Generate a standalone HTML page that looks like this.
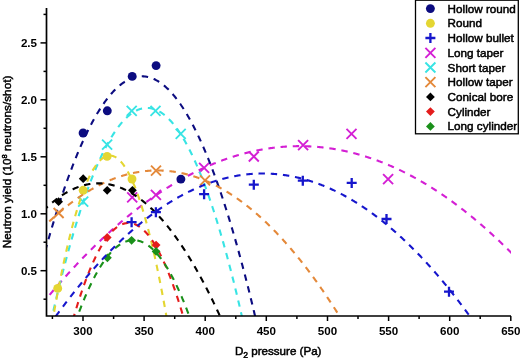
<!DOCTYPE html>
<html><head><meta charset="utf-8"><title>Neutron yield vs D2 pressure</title>
<style>
html,body{margin:0;padding:0;background:#fff;}
body{width:520px;height:358px;overflow:hidden;}
svg{display:block;}
text{font-family:"Liberation Sans", Arial, sans-serif;}
</style></head><body>
<svg width="520" height="358" viewBox="0 0 520 358">
<defs><clipPath id="pa"><rect x="46.5" y="0.0" width="464.5" height="316.0"/></clipPath></defs>

<path clip-path="url(#pa)" fill="none" stroke-width="2.1" stroke-dasharray="6.40 5.83" stroke-dashoffset="4.27" d="M44.50,301.04 L45.00,300.43 L45.50,299.83 L46.00,299.22 L46.50,298.62 L47.00,298.02 L47.50,297.42 L48.00,296.82 L48.50,296.22 L49.00,295.62 L49.50,295.02 L50.00,294.43 L50.50,293.84 L51.00,293.24 L51.50,292.65 L52.00,292.06 L52.50,291.47 L53.00,290.89 L53.50,290.30 L54.00,289.71 L54.50,289.13 L55.00,288.55 L55.50,287.97 L56.00,287.39 L56.50,286.81 L57.00,286.23 L57.50,285.65 L58.00,285.08 L58.50,284.50 L59.00,283.93 L59.50,283.36 L60.00,282.79 L60.50,282.22 L61.00,281.65 L61.50,281.08 L62.00,280.51 L62.50,279.95 L63.00,279.38 L63.50,278.82 L64.00,278.26 L64.50,277.70 L65.00,277.14 L65.50,276.58 L66.00,276.03 L66.50,275.47 L67.00,274.92 L67.50,274.36 L68.00,273.81 L68.50,273.26 L69.00,272.71 L69.50,272.16 L70.00,271.62 L70.50,271.07 L71.00,270.53 L71.50,269.98 L72.00,269.44 L72.50,268.90 L73.00,268.36 L73.50,267.82 L74.00,267.28 L74.50,266.75 L75.00,266.21 L75.50,265.68 L76.00,265.14 L76.50,264.61 L77.00,264.08 L77.50,263.55 L78.00,263.02 L78.50,262.50 L79.00,261.97 L79.50,261.45 L80.00,260.92 L80.50,260.40 L81.00,259.88 L81.50,259.36 L82.00,258.84 L82.50,258.32 L83.00,257.81 L83.50,257.29 L84.00,256.78 L84.50,256.27 L85.00,255.76 L85.50,255.25 L86.00,254.74 L86.50,254.23 L87.00,253.72 L87.50,253.22 L88.00,252.71 L88.50,252.21 L89.00,251.71 L89.50,251.21 L90.00,250.71 L90.50,250.21 L91.00,249.71 L91.50,249.22 L92.00,248.72 L92.50,248.23 L93.00,247.74 L93.50,247.24 L94.00,246.75 L94.50,246.27 L95.00,245.78 L95.50,245.29 L96.00,244.81 L96.50,244.32 L97.00,243.84 L97.50,243.36 L98.00,242.88 L98.50,242.40 L99.00,241.92 L99.50,241.44 L100.00,240.97 L100.50,240.49 L101.00,240.02 L101.50,239.55 L102.00,239.08 L102.50,238.61 L103.00,238.14 L103.50,237.67 L104.00,237.20 L104.50,236.74 L105.00,236.28 L105.50,235.81 L106.00,235.35 L106.50,234.89 L107.00,234.43 L107.50,233.97 L108.00,233.52 L108.50,233.06 L109.00,232.61 L109.50,232.15 L110.00,231.70 L110.50,231.25 L111.00,230.80 L111.50,230.35 L112.00,229.91 L112.50,229.46 L113.00,229.02 L113.50,228.57 L114.00,228.13 L114.50,227.69 L115.00,227.25 L115.50,226.81 L116.00,226.37 L116.50,225.94 L117.00,225.50 L117.50,225.07 L118.00,224.63 L118.50,224.20 L119.00,223.77 L119.50,223.34 L120.00,222.91 L120.50,222.49 L121.00,222.06 L121.50,221.64 L122.00,221.21 L122.50,220.79 L123.00,220.37 L123.50,219.95 L124.00,219.53 L124.50,219.12 L125.00,218.70 L125.50,218.28 L126.00,217.87 L126.50,217.46 L127.00,217.05 L127.50,216.64 L128.00,216.23 L128.50,215.82 L129.00,215.41 L129.50,215.01 L130.00,214.60 L130.50,214.20 L131.00,213.80 L131.50,213.40 L132.00,213.00 L132.50,212.60 L133.00,212.20 L133.50,211.81 L134.00,211.41 L134.50,211.02 L135.00,210.63 L135.50,210.23 L136.00,209.84 L136.50,209.46 L137.00,209.07 L137.50,208.68 L138.00,208.30 L138.50,207.91 L139.00,207.53 L139.50,207.15 L140.00,206.77 L140.50,206.39 L141.00,206.01 L141.50,205.63 L142.00,205.26 L142.50,204.88 L143.00,204.51 L143.50,204.14 L144.00,203.77 L144.50,203.40 L145.00,203.03 L145.50,202.66 L146.00,202.29 L146.50,201.93 L147.00,201.57 L147.50,201.20 L148.00,200.84 L148.50,200.48 L149.00,200.12 L149.50,199.76 L150.00,199.41 L150.50,199.05 L151.00,198.70 L151.50,198.34 L152.00,197.99 L152.50,197.64 L153.00,197.29 L153.50,196.94 L154.00,196.60 L154.50,196.25 L155.00,195.91 L155.50,195.56 L156.00,195.22 L156.50,194.88 L157.00,194.54 L157.50,194.20 L158.00,193.86 L158.50,193.53 L159.00,193.19 L159.50,192.86 L160.00,192.52 L160.50,192.19 L161.00,191.86 L161.50,191.53 L162.00,191.20 L162.50,190.88 L163.00,190.55 L163.50,190.23 L164.00,189.90 L164.50,189.58 L165.00,189.26 L165.50,188.94 L166.00,188.62 L166.50,188.31 L167.00,187.99 L167.50,187.67 L168.00,187.36 L168.50,187.05 L169.00,186.74 L169.50,186.43 L170.00,186.12 L170.50,185.81 L171.00,185.50 L171.50,185.20 L172.00,184.89 L172.50,184.59 L173.00,184.29 L173.50,183.99 L174.00,183.69 L174.50,183.39 L175.00,183.09 L175.50,182.80 L176.00,182.50 L176.50,182.21 L177.00,181.92 L177.50,181.62 L178.00,181.33 L178.50,181.05 L179.00,180.76 L179.50,180.47 L180.00,180.19 L180.50,179.90 L181.00,179.62 L181.50,179.34 L182.00,179.06 L182.50,178.78 L183.00,178.50 L183.50,178.22 L184.00,177.95 L184.50,177.67 L185.00,177.40 L185.50,177.13 L186.00,176.86 L186.50,176.59 L187.00,176.32 L187.50,176.05 L188.00,175.78 L188.50,175.52 L189.00,175.25 L189.50,174.99 L190.00,174.73 L190.50,174.47 L191.00,174.21 L191.50,173.95 L192.00,173.70 L192.50,173.44 L193.00,173.19 L193.50,172.93 L194.00,172.68 L194.50,172.43 L195.00,172.18 L195.50,171.93 L196.00,171.69 L196.50,171.44 L197.00,171.20 L197.50,170.95 L198.00,170.71 L198.50,170.47 L199.00,170.23 L199.50,169.99 L200.00,169.75 L200.50,169.52 L201.00,169.28 L201.50,169.05 L202.00,168.81 L202.50,168.58 L203.00,168.35 L203.50,168.12 L204.00,167.89 L204.50,167.67 L205.00,167.44 L205.50,167.22 L206.00,166.99 L206.50,166.77 L207.00,166.55 L207.50,166.33 L208.00,166.11 L208.50,165.89 L209.00,165.68 L209.50,165.46 L210.00,165.25 L210.50,165.04 L211.00,164.83 L211.50,164.62 L212.00,164.41 L212.50,164.20 L213.00,163.99 L213.50,163.79 L214.00,163.58 L214.50,163.38 L215.00,163.18 L215.50,162.98 L216.00,162.78 L216.50,162.58 L217.00,162.38 L217.50,162.18 L218.00,161.99 L218.50,161.80 L219.00,161.60 L219.50,161.41 L220.00,161.22 L220.50,161.03 L221.00,160.85 L221.50,160.66 L222.00,160.47 L222.50,160.29 L223.00,160.11 L223.50,159.93 L224.00,159.75 L224.50,159.57 L225.00,159.39 L225.50,159.21 L226.00,159.04 L226.50,158.86 L227.00,158.69 L227.50,158.52 L228.00,158.34 L228.50,158.17 L229.00,158.01 L229.50,157.84 L230.00,157.67 L230.50,157.51 L231.00,157.34 L231.50,157.18 L232.00,157.02 L232.50,156.86 L233.00,156.70 L233.50,156.54 L234.00,156.39 L234.50,156.23 L235.00,156.08 L235.50,155.92 L236.00,155.77 L236.50,155.62 L237.00,155.47 L237.50,155.32 L238.00,155.18 L238.50,155.03 L239.00,154.88 L239.50,154.74 L240.00,154.60 L240.50,154.46 L241.00,154.32 L241.50,154.18 L242.00,154.04 L242.50,153.90 L243.00,153.77 L243.50,153.64 L244.00,153.50 L244.50,153.37 L245.00,153.24 L245.50,153.11 L246.00,152.98 L246.50,152.86 L247.00,152.73 L247.50,152.61 L248.00,152.48 L248.50,152.36 L249.00,152.24 L249.50,152.12 L250.00,152.00 L250.50,151.88 L251.00,151.77 L251.50,151.65 L252.00,151.54 L252.50,151.43 L253.00,151.31 L253.50,151.20 L254.00,151.09 L254.50,150.99 L255.00,150.88 L255.50,150.77 L256.00,150.67 L256.50,150.57 L257.00,150.47 L257.50,150.36 L258.00,150.26 L258.50,150.17 L259.00,150.07 L259.50,149.97 L260.00,149.88 L260.50,149.79 L261.00,149.69 L261.50,149.60 L262.00,149.51 L262.50,149.42 L263.00,149.33 L263.50,149.25 L264.00,149.16 L264.50,149.08 L265.00,149.00 L265.50,148.91 L266.00,148.83 L266.50,148.75 L267.00,148.68 L267.50,148.60 L268.00,148.52 L268.50,148.45 L269.00,148.38 L269.50,148.30 L270.00,148.23 L270.50,148.16 L271.00,148.09 L271.50,148.03 L272.00,147.96 L272.50,147.90 L273.00,147.83 L273.50,147.77 L274.00,147.71 L274.50,147.65 L275.00,147.59 L275.50,147.53 L276.00,147.47 L276.50,147.42 L277.00,147.36 L277.50,147.31 L278.00,147.26 L278.50,147.21 L279.00,147.16 L279.50,147.11 L280.00,147.06 L280.50,147.02 L281.00,146.97 L281.50,146.93 L282.00,146.89 L282.50,146.85 L283.00,146.81 L283.50,146.77 L284.00,146.73 L284.50,146.69 L285.00,146.66 L285.50,146.62 L286.00,146.59 L286.50,146.56 L287.00,146.53 L287.50,146.50 L288.00,146.47 L288.50,146.44 L289.00,146.42 L289.50,146.39 L290.00,146.37 L290.50,146.35 L291.00,146.33 L291.50,146.31 L292.00,146.29 L292.50,146.27 L293.00,146.25 L293.50,146.24 L294.00,146.23 L294.50,146.21 L295.00,146.20 L295.50,146.19 L296.00,146.18 L296.50,146.17 L297.00,146.17 L297.50,146.16 L298.00,146.16 L298.50,146.15 L299.00,146.15 L299.50,146.15 L300.00,146.15 L300.50,146.15 L301.00,146.16 L301.50,146.16 L302.00,146.17 L302.50,146.17 L303.00,146.18 L303.50,146.19 L304.00,146.20 L304.50,146.21 L305.00,146.22 L305.50,146.24 L306.00,146.25 L306.50,146.27 L307.00,146.28 L307.50,146.30 L308.00,146.32 L308.50,146.34 L309.00,146.36 L309.50,146.39 L310.00,146.41 L310.50,146.44 L311.00,146.46 L311.50,146.49 L312.00,146.52 L312.50,146.55 L313.00,146.58 L313.50,146.61 L314.00,146.65 L314.50,146.68 L315.00,146.72 L315.50,146.76 L316.00,146.80 L316.50,146.84 L317.00,146.88 L317.50,146.92 L318.00,146.96 L318.50,147.01 L319.00,147.05 L319.50,147.10 L320.00,147.15 L320.50,147.20 L321.00,147.25 L321.50,147.30 L322.00,147.35 L322.50,147.40 L323.00,147.46 L323.50,147.52 L324.00,147.57 L324.50,147.63 L325.00,147.69 L325.50,147.75 L326.00,147.82 L326.50,147.88 L327.00,147.94 L327.50,148.01 L328.00,148.08 L328.50,148.15 L329.00,148.22 L329.50,148.29 L330.00,148.36 L330.50,148.43 L331.00,148.51 L331.50,148.58 L332.00,148.66 L332.50,148.74 L333.00,148.81 L333.50,148.89 L334.00,148.98 L334.50,149.06 L335.00,149.14 L335.50,149.23 L336.00,149.31 L336.50,149.40 L337.00,149.49 L337.50,149.58 L338.00,149.67 L338.50,149.76 L339.00,149.86 L339.50,149.95 L340.00,150.05 L340.50,150.14 L341.00,150.24 L341.50,150.34 L342.00,150.44 L342.50,150.54 L343.00,150.64 L343.50,150.75 L344.00,150.85 L344.50,150.96 L345.00,151.07 L345.50,151.18 L346.00,151.29 L346.50,151.40 L347.00,151.51 L347.50,151.62 L348.00,151.74 L348.50,151.85 L349.00,151.97 L349.50,152.09 L350.00,152.21 L350.50,152.33 L351.00,152.45 L351.50,152.57 L352.00,152.70 L352.50,152.82 L353.00,152.95 L353.50,153.08 L354.00,153.21 L354.50,153.34 L355.00,153.47 L355.50,153.60 L356.00,153.74 L356.50,153.87 L357.00,154.01 L357.50,154.14 L358.00,154.28 L358.50,154.42 L359.00,154.56 L359.50,154.71 L360.00,154.85 L360.50,154.99 L361.00,155.14 L361.50,155.29 L362.00,155.43 L362.50,155.58 L363.00,155.73 L363.50,155.88 L364.00,156.04 L364.50,156.19 L365.00,156.35 L365.50,156.50 L366.00,156.66 L366.50,156.82 L367.00,156.98 L367.50,157.14 L368.00,157.30 L368.50,157.47 L369.00,157.63 L369.50,157.80 L370.00,157.96 L370.50,158.13 L371.00,158.30 L371.50,158.47 L372.00,158.64 L372.50,158.82 L373.00,158.99 L373.50,159.17 L374.00,159.34 L374.50,159.52 L375.00,159.70 L375.50,159.88 L376.00,160.06 L376.50,160.24 L377.00,160.43 L377.50,160.61 L378.00,160.80 L378.50,160.99 L379.00,161.18 L379.50,161.37 L380.00,161.56 L380.50,161.75 L381.00,161.94 L381.50,162.14 L382.00,162.33 L382.50,162.53 L383.00,162.73 L383.50,162.93 L384.00,163.13 L384.50,163.33 L385.00,163.53 L385.50,163.73 L386.00,163.94 L386.50,164.15 L387.00,164.35 L387.50,164.56 L388.00,164.77 L388.50,164.98 L389.00,165.20 L389.50,165.41 L390.00,165.62 L390.50,165.84 L391.00,166.06 L391.50,166.28 L392.00,166.50 L392.50,166.72 L393.00,166.94 L393.50,167.16 L394.00,167.38 L394.50,167.61 L395.00,167.84 L395.50,168.06 L396.00,168.29 L396.50,168.52 L397.00,168.76 L397.50,168.99 L398.00,169.22 L398.50,169.46 L399.00,169.69 L399.50,169.93 L400.00,170.17 L400.50,170.41 L401.00,170.65 L401.50,170.89 L402.00,171.13 L402.50,171.38 L403.00,171.62 L403.50,171.87 L404.00,172.12 L404.50,172.37 L405.00,172.62 L405.50,172.87 L406.00,173.12 L406.50,173.38 L407.00,173.63 L407.50,173.89 L408.00,174.15 L408.50,174.41 L409.00,174.67 L409.50,174.93 L410.00,175.19 L410.50,175.45 L411.00,175.72 L411.50,175.98 L412.00,176.25 L412.50,176.52 L413.00,176.79 L413.50,177.06 L414.00,177.33 L414.50,177.60 L415.00,177.88 L415.50,178.15 L416.00,178.43 L416.50,178.71 L417.00,178.99 L417.50,179.27 L418.00,179.55 L418.50,179.83 L419.00,180.11 L419.50,180.40 L420.00,180.69 L420.50,180.97 L421.00,181.26 L421.50,181.55 L422.00,181.84 L422.50,182.13 L423.00,182.43 L423.50,182.72 L424.00,183.02 L424.50,183.31 L425.00,183.61 L425.50,183.91 L426.00,184.21 L426.50,184.51 L427.00,184.82 L427.50,185.12 L428.00,185.43 L428.50,185.73 L429.00,186.04 L429.50,186.35 L430.00,186.66 L430.50,186.97 L431.00,187.28 L431.50,187.60 L432.00,187.91 L432.50,188.23 L433.00,188.54 L433.50,188.86 L434.00,189.18 L434.50,189.50 L435.00,189.82 L435.50,190.15 L436.00,190.47 L436.50,190.80 L437.00,191.12 L437.50,191.45 L438.00,191.78 L438.50,192.11 L439.00,192.44 L439.50,192.77 L440.00,193.11 L440.50,193.44 L441.00,193.78 L441.50,194.12 L442.00,194.45 L442.50,194.79 L443.00,195.13 L443.50,195.48 L444.00,195.82 L444.50,196.16 L445.00,196.51 L445.50,196.86 L446.00,197.21 L446.50,197.55 L447.00,197.90 L447.50,198.26 L448.00,198.61 L448.50,198.96 L449.00,199.32 L449.50,199.67 L450.00,200.03 L450.50,200.39 L451.00,200.75 L451.50,201.11 L452.00,201.47 L452.50,201.84 L453.00,202.20 L453.50,202.57 L454.00,202.94 L454.50,203.30 L455.00,203.67 L455.50,204.04 L456.00,204.42 L456.50,204.79 L457.00,205.16 L457.50,205.54 L458.00,205.92 L458.50,206.29 L459.00,206.67 L459.50,207.05 L460.00,207.43 L460.50,207.82 L461.00,208.20 L461.50,208.58 L462.00,208.97 L462.50,209.36 L463.00,209.75 L463.50,210.14 L464.00,210.53 L464.50,210.92 L465.00,211.31 L465.50,211.71 L466.00,212.10 L466.50,212.50 L467.00,212.90 L467.50,213.30 L468.00,213.70 L468.50,214.10 L469.00,214.50 L469.50,214.91 L470.00,215.31 L470.50,215.72 L471.00,216.12 L471.50,216.53 L472.00,216.94 L472.50,217.35 L473.00,217.77 L473.50,218.18 L474.00,218.60 L474.50,219.01 L475.00,219.43 L475.50,219.85 L476.00,220.27 L476.50,220.69 L477.00,221.11 L477.50,221.53 L478.00,221.96 L478.50,222.38 L479.00,222.81 L479.50,223.24 L480.00,223.66 L480.50,224.09 L481.00,224.53 L481.50,224.96 L482.00,225.39 L482.50,225.83 L483.00,226.26 L483.50,226.70 L484.00,227.14 L484.50,227.58 L485.00,228.02 L485.50,228.46 L486.00,228.90 L486.50,229.35 L487.00,229.80 L487.50,230.24 L488.00,230.69 L488.50,231.14 L489.00,231.59 L489.50,232.04 L490.00,232.49 L490.50,232.95 L491.00,233.40 L491.50,233.86 L492.00,234.32 L492.50,234.78 L493.00,235.24 L493.50,235.70 L494.00,236.16 L494.50,236.62 L495.00,237.09 L495.50,237.55 L496.00,238.02 L496.50,238.49 L497.00,238.96 L497.50,239.43 L498.00,239.90 L498.50,240.37 L499.00,240.85 L499.50,241.32 L500.00,241.80 L500.50,242.28 L501.00,242.76 L501.50,243.24 L502.00,243.72 L502.50,244.20 L503.00,244.68 L503.50,245.17 L504.00,245.66 L504.50,246.14 L505.00,246.63 L505.50,247.12 L506.00,247.61 L506.50,248.10 L507.00,248.60 L507.50,249.09 L508.00,249.59 L508.50,250.08 L509.00,250.58 L509.50,251.08 L510.00,251.58 L510.50,252.08 L511.00,252.59 L511.50,253.09 L512.00,253.60 L512.50,254.10" stroke="#d41fd4"/>
<path d="M127.2,192.4L137.2,202.4M127.2,202.4L137.2,192.4" stroke="#d41fd4" stroke-width="1.90" fill="none"/>
<path d="M150.9,189.9L160.9,199.9M150.9,199.9L160.9,189.9" stroke="#d41fd4" stroke-width="1.90" fill="none"/>
<path d="M199.1,162.8L209.1,172.8M199.1,172.8L209.1,162.8" stroke="#d41fd4" stroke-width="1.90" fill="none"/>
<path d="M248.8,151.5L258.8,161.5M248.8,161.5L258.8,151.5" stroke="#d41fd4" stroke-width="1.90" fill="none"/>
<path d="M298.1,140.2L308.1,150.2M298.1,150.2L308.1,140.2" stroke="#d41fd4" stroke-width="1.90" fill="none"/>
<path d="M346.5,128.8L356.5,138.8M346.5,138.8L356.5,128.8" stroke="#d41fd4" stroke-width="1.90" fill="none"/>
<path d="M383.1,174.1L393.1,184.1M383.1,184.1L393.1,174.1" stroke="#d41fd4" stroke-width="1.90" fill="none"/>
<path clip-path="url(#pa)" fill="none" stroke-width="2.1" stroke-dasharray="6.40 5.83" stroke-dashoffset="7.56" d="M44.50,351.03 L45.00,348.66 L45.50,346.30 L46.00,343.96 L46.50,341.63 L47.00,339.31 L47.50,337.00 L48.00,334.70 L48.50,332.42 L49.00,330.15 L49.50,327.88 L50.00,325.63 L50.50,323.39 L51.00,321.17 L51.50,318.95 L52.00,316.75 L52.50,314.55 L53.00,312.37 L53.50,310.20 L54.00,308.05 L54.50,305.90 L55.00,303.76 L55.50,301.64 L56.00,299.53 L56.50,297.43 L57.00,295.34 L57.50,293.26 L58.00,291.20 L58.50,289.15 L59.00,287.10 L59.50,285.07 L60.00,283.05 L60.50,281.05 L61.00,279.05 L61.50,277.07 L62.00,275.09 L62.50,273.13 L63.00,271.18 L63.50,269.24 L64.00,267.32 L64.50,265.40 L65.00,263.50 L65.50,261.61 L66.00,259.73 L66.50,257.86 L67.00,256.00 L67.50,254.16 L68.00,252.32 L68.50,250.50 L69.00,248.69 L69.50,246.89 L70.00,245.10 L70.50,243.33 L71.00,241.56 L71.50,239.81 L72.00,238.07 L72.50,236.34 L73.00,234.62 L73.50,232.91 L74.00,231.22 L74.50,229.53 L75.00,227.86 L75.50,226.20 L76.00,224.55 L76.50,222.92 L77.00,221.29 L77.50,219.68 L78.00,218.07 L78.50,216.48 L79.00,214.90 L79.50,213.34 L80.00,211.78 L80.50,210.23 L81.00,208.70 L81.50,207.18 L82.00,205.67 L82.50,204.17 L83.00,202.69 L83.50,201.21 L84.00,199.75 L84.50,198.29 L85.00,196.85 L85.50,195.43 L86.00,194.01 L86.50,192.60 L87.00,191.21 L87.50,189.83 L88.00,188.45 L88.50,187.09 L89.00,185.75 L89.50,184.41 L90.00,183.09 L90.50,181.77 L91.00,180.47 L91.50,179.18 L92.00,177.90 L92.50,176.64 L93.00,175.38 L93.50,174.14 L94.00,172.90 L94.50,171.68 L95.00,170.47 L95.50,169.28 L96.00,168.09 L96.50,166.92 L97.00,165.75 L97.50,164.60 L98.00,163.46 L98.50,162.34 L99.00,161.22 L99.50,160.11 L100.00,159.02 L100.50,157.94 L101.00,156.87 L101.50,155.81 L102.00,154.76 L102.50,153.73 L103.00,152.70 L103.50,151.69 L104.00,150.69 L104.50,149.70 L105.00,148.72 L105.50,147.76 L106.00,146.80 L106.50,145.86 L107.00,144.93 L107.50,144.01 L108.00,143.10 L108.50,142.20 L109.00,141.32 L109.50,140.45 L110.00,139.58 L110.50,138.73 L111.00,137.90 L111.50,137.07 L112.00,136.25 L112.50,135.45 L113.00,134.66 L113.50,133.88 L114.00,133.11 L114.50,132.35 L115.00,131.60 L115.50,130.87 L116.00,130.14 L116.50,129.43 L117.00,128.73 L117.50,128.04 L118.00,127.37 L118.50,126.70 L119.00,126.05 L119.50,125.41 L120.00,124.78 L120.50,124.16 L121.00,123.55 L121.50,122.95 L122.00,122.37 L122.50,121.80 L123.00,121.24 L123.50,120.69 L124.00,120.15 L124.50,119.62 L125.00,119.11 L125.50,118.61 L126.00,118.11 L126.50,117.63 L127.00,117.17 L127.50,116.71 L128.00,116.26 L128.50,115.83 L129.00,115.41 L129.50,115.00 L130.00,114.60 L130.50,114.21 L131.00,113.83 L131.50,113.47 L132.00,113.12 L132.50,112.78 L133.00,112.45 L133.50,112.13 L134.00,111.82 L134.50,111.53 L135.00,111.24 L135.50,110.97 L136.00,110.71 L136.50,110.46 L137.00,110.23 L137.50,110.00 L138.00,109.79 L138.50,109.58 L139.00,109.39 L139.50,109.22 L140.00,109.05 L140.50,108.89 L141.00,108.75 L141.50,108.61 L142.00,108.49 L142.50,108.38 L143.00,108.28 L143.50,108.20 L144.00,108.12 L144.50,108.06 L145.00,108.01 L145.50,107.97 L146.00,107.94 L146.50,107.92 L147.00,107.92 L147.50,107.92 L148.00,107.94 L148.50,107.97 L149.00,108.01 L149.50,108.06 L150.00,108.13 L150.50,108.20 L151.00,108.29 L151.50,108.39 L152.00,108.50 L152.50,108.62 L153.00,108.75 L153.50,108.90 L154.00,109.05 L154.50,109.22 L155.00,109.40 L155.50,109.59 L156.00,109.79 L156.50,110.01 L157.00,110.23 L157.50,110.47 L158.00,110.72 L158.50,110.98 L159.00,111.25 L159.50,111.54 L160.00,111.83 L160.50,112.14 L161.00,112.46 L161.50,112.79 L162.00,113.13 L162.50,113.48 L163.00,113.85 L163.50,114.22 L164.00,114.61 L164.50,115.01 L165.00,115.42 L165.50,115.84 L166.00,116.28 L166.50,116.72 L167.00,117.18 L167.50,117.65 L168.00,118.13 L168.50,118.62 L169.00,119.13 L169.50,119.64 L170.00,120.17 L170.50,120.71 L171.00,121.26 L171.50,121.82 L172.00,122.39 L172.50,122.98 L173.00,123.57 L173.50,124.18 L174.00,124.80 L174.50,125.43 L175.00,126.07 L175.50,126.73 L176.00,127.39 L176.50,128.07 L177.00,128.76 L177.50,129.46 L178.00,130.17 L178.50,130.89 L179.00,131.63 L179.50,132.38 L180.00,133.13 L180.50,133.90 L181.00,134.68 L181.50,135.48 L182.00,136.28 L182.50,137.10 L183.00,137.93 L183.50,138.76 L184.00,139.62 L184.50,140.48 L185.00,141.35 L185.50,142.24 L186.00,143.13 L186.50,144.04 L187.00,144.96 L187.50,145.89 L188.00,146.84 L188.50,147.79 L189.00,148.76 L189.50,149.74 L190.00,150.73 L190.50,151.73 L191.00,152.74 L191.50,153.76 L192.00,154.80 L192.50,155.85 L193.00,156.91 L193.50,157.98 L194.00,159.06 L194.50,160.15 L195.00,161.26 L195.50,162.38 L196.00,163.50 L196.50,164.64 L197.00,165.80 L197.50,166.96 L198.00,168.13 L198.50,169.32 L199.00,170.52 L199.50,171.73 L200.00,172.95 L200.50,174.18 L201.00,175.43 L201.50,176.68 L202.00,177.95 L202.50,179.23 L203.00,180.52 L203.50,181.82 L204.00,183.13 L204.50,184.46 L205.00,185.80 L205.50,187.14 L206.00,188.50 L206.50,189.87 L207.00,191.26 L207.50,192.65 L208.00,194.06 L208.50,195.48 L209.00,196.91 L209.50,198.35 L210.00,199.80 L210.50,201.26 L211.00,202.74 L211.50,204.23 L212.00,205.72 L212.50,207.24 L213.00,208.76 L213.50,210.29 L214.00,211.84 L214.50,213.39 L215.00,214.96 L215.50,216.54 L216.00,218.13 L216.50,219.73 L217.00,221.35 L217.50,222.97 L218.00,224.61 L218.50,226.26 L219.00,227.92 L219.50,229.59 L220.00,231.28 L220.50,232.97 L221.00,234.68 L221.50,236.40 L222.00,238.13 L222.50,239.87 L223.00,241.62 L223.50,243.39 L224.00,245.17 L224.50,246.95 L225.00,248.75 L225.50,250.57 L226.00,252.39 L226.50,254.22 L227.00,256.07 L227.50,257.93 L228.00,259.79 L228.50,261.68 L229.00,263.57 L229.50,265.47 L230.00,267.39 L230.50,269.31 L231.00,271.25 L231.50,273.20 L232.00,275.16 L232.50,277.14 L233.00,279.12 L233.50,281.12 L234.00,283.13 L234.50,285.15 L235.00,287.18 L235.50,289.22 L236.00,291.27 L236.50,293.34 L237.00,295.42 L237.50,297.51 L238.00,299.61 L238.50,301.72 L239.00,303.84 L239.50,305.98 L240.00,308.12 L240.50,310.28 L241.00,312.45 L241.50,314.63 L242.00,316.83 L242.50,319.03 L243.00,321.25 L243.50,323.47 L244.00,325.71 L244.50,327.96 L245.00,330.23 L245.50,332.50 L246.00,334.79 L246.50,337.08 L247.00,339.39 L247.50,341.71 L248.00,344.05 L248.50,346.39 L249.00,348.74 L249.50,351.11 L250.00,353.49 L250.50,355.88" stroke="#38e4e4"/>
<path d="M78.2,196.7L88.2,206.7M78.2,206.7L88.2,196.7" stroke="#38e4e4" stroke-width="1.90" fill="none"/>
<path d="M102.1,139.6L112.1,149.6M102.1,149.6L112.1,139.6" stroke="#38e4e4" stroke-width="1.90" fill="none"/>
<path d="M126.7,105.9L136.7,115.9M126.7,115.9L136.7,105.9" stroke="#38e4e4" stroke-width="1.90" fill="none"/>
<path d="M150.5,105.9L160.5,115.9M150.5,115.9L160.5,105.9" stroke="#38e4e4" stroke-width="1.90" fill="none"/>
<path d="M175.7,128.9L185.7,138.9M175.7,138.9L185.7,128.9" stroke="#38e4e4" stroke-width="1.90" fill="none"/>
<path clip-path="url(#pa)" fill="none" stroke-width="2.1" stroke-dasharray="6.40 5.83" stroke-dashoffset="5.68" d="M47.00,354.39 L47.50,351.24 L48.00,348.11 L48.50,345.01 L49.00,341.94 L49.50,338.89 L50.00,335.87 L50.50,332.87 L51.00,329.90 L51.50,326.95 L52.00,324.03 L52.50,321.13 L53.00,318.26 L53.50,315.41 L54.00,312.59 L54.50,309.79 L55.00,307.02 L55.50,304.27 L56.00,301.55 L56.50,298.85 L57.00,296.18 L57.50,293.54 L58.00,290.92 L58.50,288.32 L59.00,285.75 L59.50,283.20 L60.00,280.68 L60.50,278.19 L61.00,275.72 L61.50,273.27 L62.00,270.85 L62.50,268.46 L63.00,266.09 L63.50,263.74 L64.00,261.42 L64.50,259.13 L65.00,256.86 L65.50,254.62 L66.00,252.40 L66.50,250.20 L67.00,248.04 L67.50,245.89 L68.00,243.77 L68.50,241.68 L69.00,239.61 L69.50,237.57 L70.00,235.55 L70.50,233.56 L71.00,231.59 L71.50,229.65 L72.00,227.73 L72.50,225.84 L73.00,223.97 L73.50,222.13 L74.00,220.31 L74.50,218.52 L75.00,216.76 L75.50,215.01 L76.00,213.30 L76.50,211.61 L77.00,209.94 L77.50,208.30 L78.00,206.68 L78.50,205.09 L79.00,203.53 L79.50,201.99 L80.00,200.47 L80.50,198.98 L81.00,197.52 L81.50,196.08 L82.00,194.66 L82.50,193.27 L83.00,191.91 L83.50,190.57 L84.00,189.26 L84.50,187.97 L85.00,186.70 L85.50,185.47 L86.00,184.25 L86.50,183.06 L87.00,181.90 L87.50,180.76 L88.00,179.65 L88.50,178.56 L89.00,177.50 L89.50,176.46 L90.00,175.45 L90.50,174.46 L91.00,173.50 L91.50,172.56 L92.00,171.65 L92.50,170.76 L93.00,169.90 L93.50,169.06 L94.00,168.25 L94.50,167.47 L95.00,166.71 L95.50,165.97 L96.00,165.26 L96.50,164.57 L97.00,163.91 L97.50,163.28 L98.00,162.67 L98.50,162.08 L99.00,161.52 L99.50,160.99 L100.00,160.48 L100.50,159.99 L101.00,159.53 L101.50,159.10 L102.00,158.69 L102.50,158.31 L103.00,157.95 L103.50,157.61 L104.00,157.30 L104.50,157.02 L105.00,156.76 L105.50,156.53 L106.00,156.32 L106.50,156.14 L107.00,155.98 L107.50,155.85 L108.00,155.74 L108.50,155.66 L109.00,155.60 L109.50,155.57 L110.00,155.56 L110.50,155.58 L111.00,155.62 L111.50,155.69 L112.00,155.78 L112.50,155.90 L113.00,156.05 L113.50,156.21 L114.00,156.41 L114.50,156.63 L115.00,156.87 L115.50,157.14 L116.00,157.44 L116.50,157.76 L117.00,158.10 L117.50,158.47 L118.00,158.87 L118.50,159.29 L119.00,159.73 L119.50,160.20 L120.00,160.70 L120.50,161.22 L121.00,161.76 L121.50,162.34 L122.00,162.93 L122.50,163.55 L123.00,164.20 L123.50,164.87 L124.00,165.57 L124.50,166.29 L125.00,167.04 L125.50,167.81 L126.00,168.61 L126.50,169.43 L127.00,170.28 L127.50,171.15 L128.00,172.05 L128.50,172.97 L129.00,173.92 L129.50,174.89 L130.00,175.89 L130.50,176.91 L131.00,177.96 L131.50,179.03 L132.00,180.13 L132.50,181.26 L133.00,182.41 L133.50,183.58 L134.00,184.78 L134.50,186.00 L135.00,187.25 L135.50,188.53 L136.00,189.83 L136.50,191.15 L137.00,192.50 L137.50,193.88 L138.00,195.28 L138.50,196.71 L139.00,198.16 L139.50,199.63 L140.00,201.13 L140.50,202.66 L141.00,204.21 L141.50,205.79 L142.00,207.39 L142.50,209.01 L143.00,210.67 L143.50,212.34 L144.00,214.05 L144.50,215.77 L145.00,217.53 L145.50,219.30 L146.00,221.11 L146.50,222.93 L147.00,224.79 L147.50,226.66 L148.00,228.57 L148.50,230.50 L149.00,232.45 L149.50,234.43 L150.00,236.43 L150.50,238.46 L151.00,240.51 L151.50,242.59 L152.00,244.70 L152.50,246.83 L153.00,248.98 L153.50,251.16 L154.00,253.37 L154.50,255.60 L155.00,257.85 L155.50,260.13 L156.00,262.44 L156.50,264.77 L157.00,267.12 L157.50,269.50 L158.00,271.91 L158.50,274.34 L159.00,276.80 L159.50,279.28 L160.00,281.78 L160.50,284.31 L161.00,286.87 L161.50,289.45 L162.00,292.06 L162.50,294.69 L163.00,297.35 L163.50,300.03 L164.00,302.74 L164.50,305.47 L165.00,308.23 L165.50,311.01 L166.00,313.82 L166.50,316.65 L167.00,319.51 L167.50,322.39 L168.00,325.30 L168.50,328.24 L169.00,331.20 L169.50,334.18 L170.00,337.19 L170.50,340.22 L171.00,343.28 L171.50,346.37 L172.00,349.48 L172.50,352.61 L173.00,355.77" stroke="#e4d632"/>
<circle cx="57.7" cy="288.4" r="4.45" fill="#e4d632"/>
<circle cx="83.2" cy="190.3" r="4.45" fill="#e4d632"/>
<circle cx="107.1" cy="156.4" r="4.45" fill="#e4d632"/>
<circle cx="132.0" cy="179.0" r="4.45" fill="#e4d632"/>
<path clip-path="url(#pa)" fill="none" stroke-width="2.1" stroke-dasharray="6.40 5.83" stroke-dashoffset="9.69" d="M44.50,253.48 L45.00,251.67 L45.50,249.86 L46.00,248.06 L46.50,246.28 L47.00,244.50 L47.50,242.73 L48.00,240.97 L48.50,239.22 L49.00,237.48 L49.50,235.75 L50.00,234.02 L50.50,232.31 L51.00,230.61 L51.50,228.91 L52.00,227.23 L52.50,225.55 L53.00,223.89 L53.50,222.23 L54.00,220.58 L54.50,218.95 L55.00,217.32 L55.50,215.70 L56.00,214.09 L56.50,212.49 L57.00,210.90 L57.50,209.32 L58.00,207.74 L58.50,206.18 L59.00,204.63 L59.50,203.08 L60.00,201.55 L60.50,200.02 L61.00,198.50 L61.50,197.00 L62.00,195.50 L62.50,194.01 L63.00,192.53 L63.50,191.06 L64.00,189.60 L64.50,188.15 L65.00,186.71 L65.50,185.28 L66.00,183.86 L66.50,182.44 L67.00,181.04 L67.50,179.64 L68.00,178.26 L68.50,176.88 L69.00,175.51 L69.50,174.16 L70.00,172.81 L70.50,171.47 L71.00,170.14 L71.50,168.82 L72.00,167.51 L72.50,166.21 L73.00,164.92 L73.50,163.63 L74.00,162.36 L74.50,161.10 L75.00,159.84 L75.50,158.60 L76.00,157.36 L76.50,156.14 L77.00,154.92 L77.50,153.71 L78.00,152.51 L78.50,151.32 L79.00,150.14 L79.50,148.97 L80.00,147.81 L80.50,146.66 L81.00,145.52 L81.50,144.38 L82.00,143.26 L82.50,142.15 L83.00,141.04 L83.50,139.95 L84.00,138.86 L84.50,137.78 L85.00,136.72 L85.50,135.66 L86.00,134.61 L86.50,133.57 L87.00,132.54 L87.50,131.52 L88.00,130.51 L88.50,129.50 L89.00,128.51 L89.50,127.53 L90.00,126.55 L90.50,125.59 L91.00,124.63 L91.50,123.69 L92.00,122.75 L92.50,121.82 L93.00,120.91 L93.50,120.00 L94.00,119.10 L94.50,118.21 L95.00,117.33 L95.50,116.46 L96.00,115.59 L96.50,114.74 L97.00,113.90 L97.50,113.07 L98.00,112.24 L98.50,111.43 L99.00,110.62 L99.50,109.82 L100.00,109.04 L100.50,108.26 L101.00,107.49 L101.50,106.73 L102.00,105.98 L102.50,105.24 L103.00,104.51 L103.50,103.79 L104.00,103.08 L104.50,102.37 L105.00,101.68 L105.50,101.00 L106.00,100.32 L106.50,99.66 L107.00,99.00 L107.50,98.35 L108.00,97.72 L108.50,97.09 L109.00,96.47 L109.50,95.86 L110.00,95.26 L110.50,94.67 L111.00,94.09 L111.50,93.52 L112.00,92.95 L112.50,92.40 L113.00,91.86 L113.50,91.32 L114.00,90.80 L114.50,90.28 L115.00,89.77 L115.50,89.28 L116.00,88.79 L116.50,88.31 L117.00,87.84 L117.50,87.38 L118.00,86.93 L118.50,86.49 L119.00,86.06 L119.50,85.64 L120.00,85.22 L120.50,84.82 L121.00,84.43 L121.50,84.04 L122.00,83.66 L122.50,83.30 L123.00,82.94 L123.50,82.59 L124.00,82.26 L124.50,81.93 L125.00,81.61 L125.50,81.30 L126.00,81.00 L126.50,80.70 L127.00,80.42 L127.50,80.15 L128.00,79.89 L128.50,79.63 L129.00,79.39 L129.50,79.15 L130.00,78.93 L130.50,78.71 L131.00,78.50 L131.50,78.30 L132.00,78.12 L132.50,77.94 L133.00,77.77 L133.50,77.61 L134.00,77.46 L134.50,77.31 L135.00,77.18 L135.50,77.06 L136.00,76.94 L136.50,76.84 L137.00,76.74 L137.50,76.66 L138.00,76.58 L138.50,76.52 L139.00,76.46 L139.50,76.41 L140.00,76.37 L140.50,76.34 L141.00,76.32 L141.50,76.31 L142.00,76.31 L142.50,76.32 L143.00,76.33 L143.50,76.36 L144.00,76.39 L144.50,76.44 L145.00,76.49 L145.50,76.56 L146.00,76.63 L146.50,76.71 L147.00,76.81 L147.50,76.91 L148.00,77.02 L148.50,77.14 L149.00,77.27 L149.50,77.41 L150.00,77.55 L150.50,77.71 L151.00,77.88 L151.50,78.05 L152.00,78.24 L152.50,78.43 L153.00,78.64 L153.50,78.85 L154.00,79.07 L154.50,79.31 L155.00,79.55 L155.50,79.80 L156.00,80.06 L156.50,80.33 L157.00,80.61 L157.50,80.90 L158.00,81.19 L158.50,81.50 L159.00,81.82 L159.50,82.14 L160.00,82.48 L160.50,82.82 L161.00,83.18 L161.50,83.54 L162.00,83.91 L162.50,84.29 L163.00,84.68 L163.50,85.08 L164.00,85.49 L164.50,85.91 L165.00,86.34 L165.50,86.78 L166.00,87.23 L166.50,87.68 L167.00,88.15 L167.50,88.63 L168.00,89.11 L168.50,89.60 L169.00,90.11 L169.50,90.62 L170.00,91.14 L170.50,91.67 L171.00,92.21 L171.50,92.76 L172.00,93.32 L172.50,93.89 L173.00,94.47 L173.50,95.06 L174.00,95.65 L174.50,96.26 L175.00,96.88 L175.50,97.50 L176.00,98.14 L176.50,98.78 L177.00,99.43 L177.50,100.09 L178.00,100.77 L178.50,101.45 L179.00,102.14 L179.50,102.84 L180.00,103.55 L180.50,104.26 L181.00,104.99 L181.50,105.73 L182.00,106.48 L182.50,107.23 L183.00,108.00 L183.50,108.77 L184.00,109.56 L184.50,110.35 L185.00,111.15 L185.50,111.96 L186.00,112.78 L186.50,113.61 L187.00,114.45 L187.50,115.30 L188.00,116.16 L188.50,117.03 L189.00,117.91 L189.50,118.79 L190.00,119.69 L190.50,120.60 L191.00,121.51 L191.50,122.44 L192.00,123.37 L192.50,124.31 L193.00,125.26 L193.50,126.22 L194.00,127.20 L194.50,128.18 L195.00,129.17 L195.50,130.16 L196.00,131.17 L196.50,132.19 L197.00,133.22 L197.50,134.25 L198.00,135.30 L198.50,136.35 L199.00,137.42 L199.50,138.49 L200.00,139.58 L200.50,140.67 L201.00,141.77 L201.50,142.88 L202.00,144.00 L202.50,145.13 L203.00,146.27 L203.50,147.42 L204.00,148.58 L204.50,149.74 L205.00,150.92 L205.50,152.11 L206.00,153.30 L206.50,154.51 L207.00,155.72 L207.50,156.94 L208.00,158.18 L208.50,159.42 L209.00,160.67 L209.50,161.93 L210.00,163.20 L210.50,164.48 L211.00,165.77 L211.50,167.07 L212.00,168.37 L212.50,169.69 L213.00,171.02 L213.50,172.35 L214.00,173.70 L214.50,175.05 L215.00,176.42 L215.50,177.79 L216.00,179.17 L216.50,180.56 L217.00,181.96 L217.50,183.37 L218.00,184.79 L218.50,186.22 L219.00,187.66 L219.50,189.11 L220.00,190.57 L220.50,192.03 L221.00,193.51 L221.50,194.99 L222.00,196.49 L222.50,197.99 L223.00,199.50 L223.50,201.03 L224.00,202.56 L224.50,204.10 L225.00,205.65 L225.50,207.21 L226.00,208.78 L226.50,210.36 L227.00,211.95 L227.50,213.54 L228.00,215.15 L228.50,216.77 L229.00,218.39 L229.50,220.03 L230.00,221.67 L230.50,223.32 L231.00,224.99 L231.50,226.66 L232.00,228.34 L232.50,230.03 L233.00,231.73 L233.50,233.44 L234.00,235.16 L234.50,236.89 L235.00,238.63 L235.50,240.37 L236.00,242.13 L236.50,243.89 L237.00,245.67 L237.50,247.45 L238.00,249.25 L238.50,251.05 L239.00,252.86 L239.50,254.69 L240.00,256.52 L240.50,258.36 L241.00,260.21 L241.50,262.07 L242.00,263.93 L242.50,265.81 L243.00,267.70 L243.50,269.60 L244.00,271.50 L244.50,273.42 L245.00,275.34 L245.50,277.28 L246.00,279.22 L246.50,281.17 L247.00,283.13 L247.50,285.10 L248.00,287.09 L248.50,289.08 L249.00,291.08 L249.50,293.08 L250.00,295.10 L250.50,297.13 L251.00,299.17 L251.50,301.21 L252.00,303.27 L252.50,305.33 L253.00,307.41 L253.50,309.49 L254.00,311.58 L254.50,313.69 L255.00,315.80 L255.50,317.92 L256.00,320.05 L256.50,322.19 L257.00,324.34 L257.50,326.50 L258.00,328.66 L258.50,330.84 L259.00,333.03 L259.50,335.22 L260.00,337.43 L260.50,339.64 L261.00,341.87 L261.50,344.10 L262.00,346.34 L262.50,348.59 L263.00,350.85 L263.50,353.13 L264.00,355.41" stroke="#0c0c80"/>
<circle cx="83.1" cy="133.0" r="4.45" fill="#0c0c80"/>
<circle cx="107.3" cy="110.8" r="4.45" fill="#0c0c80"/>
<circle cx="132.2" cy="76.4" r="4.45" fill="#0c0c80"/>
<circle cx="156.1" cy="65.6" r="4.45" fill="#0c0c80"/>
<circle cx="180.9" cy="179.1" r="4.45" fill="#0c0c80"/>
<path clip-path="url(#pa)" fill="none" stroke-width="2.1" stroke-dasharray="6.40 5.83" stroke-dashoffset="5.49" d="M44.50,226.10 L45.00,225.60 L45.50,225.11 L46.00,224.63 L46.50,224.14 L47.00,223.66 L47.50,223.17 L48.00,222.70 L48.50,222.22 L49.00,221.74 L49.50,221.27 L50.00,220.80 L50.50,220.33 L51.00,219.87 L51.50,219.40 L52.00,218.94 L52.50,218.48 L53.00,218.02 L53.50,217.57 L54.00,217.11 L54.50,216.66 L55.00,216.21 L55.50,215.77 L56.00,215.32 L56.50,214.88 L57.00,214.44 L57.50,214.00 L58.00,213.57 L58.50,213.13 L59.00,212.70 L59.50,212.27 L60.00,211.85 L60.50,211.42 L61.00,211.00 L61.50,210.58 L62.00,210.16 L62.50,209.75 L63.00,209.33 L63.50,208.92 L64.00,208.51 L64.50,208.10 L65.00,207.70 L65.50,207.30 L66.00,206.90 L66.50,206.50 L67.00,206.10 L67.50,205.71 L68.00,205.32 L68.50,204.93 L69.00,204.54 L69.50,204.15 L70.00,203.77 L70.50,203.39 L71.00,203.01 L71.50,202.64 L72.00,202.26 L72.50,201.89 L73.00,201.52 L73.50,201.15 L74.00,200.79 L74.50,200.42 L75.00,200.06 L75.50,199.70 L76.00,199.35 L76.50,198.99 L77.00,198.64 L77.50,198.29 L78.00,197.94 L78.50,197.60 L79.00,197.25 L79.50,196.91 L80.00,196.57 L80.50,196.23 L81.00,195.90 L81.50,195.57 L82.00,195.24 L82.50,194.91 L83.00,194.58 L83.50,194.26 L84.00,193.94 L84.50,193.62 L85.00,193.30 L85.50,192.98 L86.00,192.67 L86.50,192.36 L87.00,192.05 L87.50,191.75 L88.00,191.44 L88.50,191.14 L89.00,190.84 L89.50,190.54 L90.00,190.25 L90.50,189.95 L91.00,189.66 L91.50,189.37 L92.00,189.09 L92.50,188.80 L93.00,188.52 L93.50,188.24 L94.00,187.96 L94.50,187.69 L95.00,187.41 L95.50,187.14 L96.00,186.87 L96.50,186.61 L97.00,186.34 L97.50,186.08 L98.00,185.82 L98.50,185.56 L99.00,185.30 L99.50,185.05 L100.00,184.80 L100.50,184.55 L101.00,184.30 L101.50,184.06 L102.00,183.81 L102.50,183.57 L103.00,183.34 L103.50,183.10 L104.00,182.87 L104.50,182.63 L105.00,182.40 L105.50,182.18 L106.00,181.95 L106.50,181.73 L107.00,181.51 L107.50,181.29 L108.00,181.07 L108.50,180.86 L109.00,180.65 L109.50,180.44 L110.00,180.23 L110.50,180.02 L111.00,179.82 L111.50,179.62 L112.00,179.42 L112.50,179.22 L113.00,179.03 L113.50,178.83 L114.00,178.64 L114.50,178.46 L115.00,178.27 L115.50,178.09 L116.00,177.91 L116.50,177.73 L117.00,177.55 L117.50,177.37 L118.00,177.20 L118.50,177.03 L119.00,176.86 L119.50,176.70 L120.00,176.53 L120.50,176.37 L121.00,176.21 L121.50,176.05 L122.00,175.90 L122.50,175.75 L123.00,175.59 L123.50,175.45 L124.00,175.30 L124.50,175.16 L125.00,175.01 L125.50,174.87 L126.00,174.74 L126.50,174.60 L127.00,174.47 L127.50,174.34 L128.00,174.21 L128.50,174.08 L129.00,173.96 L129.50,173.83 L130.00,173.71 L130.50,173.59 L131.00,173.48 L131.50,173.37 L132.00,173.25 L132.50,173.14 L133.00,173.04 L133.50,172.93 L134.00,172.83 L134.50,172.73 L135.00,172.63 L135.50,172.54 L136.00,172.44 L136.50,172.35 L137.00,172.26 L137.50,172.17 L138.00,172.09 L138.50,172.01 L139.00,171.92 L139.50,171.85 L140.00,171.77 L140.50,171.70 L141.00,171.62 L141.50,171.55 L142.00,171.49 L142.50,171.42 L143.00,171.36 L143.50,171.30 L144.00,171.24 L144.50,171.18 L145.00,171.13 L145.50,171.07 L146.00,171.02 L146.50,170.98 L147.00,170.93 L147.50,170.89 L148.00,170.85 L148.50,170.81 L149.00,170.77 L149.50,170.74 L150.00,170.70 L150.50,170.67 L151.00,170.64 L151.50,170.62 L152.00,170.59 L152.50,170.57 L153.00,170.55 L153.50,170.54 L154.00,170.52 L154.50,170.51 L155.00,170.50 L155.50,170.49 L156.00,170.48 L156.50,170.48 L157.00,170.48 L157.50,170.48 L158.00,170.48 L158.50,170.48 L159.00,170.49 L159.50,170.50 L160.00,170.51 L160.50,170.53 L161.00,170.54 L161.50,170.56 L162.00,170.58 L162.50,170.60 L163.00,170.63 L163.50,170.65 L164.00,170.68 L164.50,170.71 L165.00,170.75 L165.50,170.78 L166.00,170.82 L166.50,170.86 L167.00,170.90 L167.50,170.94 L168.00,170.99 L168.50,171.04 L169.00,171.09 L169.50,171.14 L170.00,171.20 L170.50,171.25 L171.00,171.31 L171.50,171.38 L172.00,171.44 L172.50,171.51 L173.00,171.57 L173.50,171.64 L174.00,171.72 L174.50,171.79 L175.00,171.87 L175.50,171.95 L176.00,172.03 L176.50,172.11 L177.00,172.20 L177.50,172.29 L178.00,172.38 L178.50,172.47 L179.00,172.56 L179.50,172.66 L180.00,172.76 L180.50,172.86 L181.00,172.96 L181.50,173.07 L182.00,173.18 L182.50,173.29 L183.00,173.40 L183.50,173.51 L184.00,173.63 L184.50,173.75 L185.00,173.87 L185.50,173.99 L186.00,174.12 L186.50,174.24 L187.00,174.37 L187.50,174.51 L188.00,174.64 L188.50,174.78 L189.00,174.91 L189.50,175.05 L190.00,175.20 L190.50,175.34 L191.00,175.49 L191.50,175.64 L192.00,175.79 L192.50,175.94 L193.00,176.10 L193.50,176.26 L194.00,176.42 L194.50,176.58 L195.00,176.74 L195.50,176.91 L196.00,177.08 L196.50,177.25 L197.00,177.42 L197.50,177.60 L198.00,177.78 L198.50,177.96 L199.00,178.14 L199.50,178.32 L200.00,178.51 L200.50,178.70 L201.00,178.89 L201.50,179.08 L202.00,179.28 L202.50,179.48 L203.00,179.68 L203.50,179.88 L204.00,180.08 L204.50,180.29 L205.00,180.50 L205.50,180.71 L206.00,180.92 L206.50,181.14 L207.00,181.35 L207.50,181.57 L208.00,181.79 L208.50,182.02 L209.00,182.24 L209.50,182.47 L210.00,182.70 L210.50,182.93 L211.00,183.17 L211.50,183.41 L212.00,183.64 L212.50,183.89 L213.00,184.13 L213.50,184.37 L214.00,184.62 L214.50,184.87 L215.00,185.12 L215.50,185.38 L216.00,185.64 L216.50,185.89 L217.00,186.16 L217.50,186.42 L218.00,186.68 L218.50,186.95 L219.00,187.22 L219.50,187.49 L220.00,187.77 L220.50,188.04 L221.00,188.32 L221.50,188.60 L222.00,188.89 L222.50,189.17 L223.00,189.46 L223.50,189.75 L224.00,190.04 L224.50,190.33 L225.00,190.63 L225.50,190.93 L226.00,191.23 L226.50,191.53 L227.00,191.84 L227.50,192.14 L228.00,192.45 L228.50,192.76 L229.00,193.08 L229.50,193.39 L230.00,193.71 L230.50,194.03 L231.00,194.35 L231.50,194.68 L232.00,195.00 L232.50,195.33 L233.00,195.66 L233.50,196.00 L234.00,196.33 L234.50,196.67 L235.00,197.01 L235.50,197.35 L236.00,197.70 L236.50,198.04 L237.00,198.39 L237.50,198.74 L238.00,199.10 L238.50,199.45 L239.00,199.81 L239.50,200.17 L240.00,200.53 L240.50,200.89 L241.00,201.26 L241.50,201.63 L242.00,202.00 L242.50,202.37 L243.00,202.75 L243.50,203.12 L244.00,203.50 L244.50,203.88 L245.00,204.27 L245.50,204.65 L246.00,205.04 L246.50,205.43 L247.00,205.82 L247.50,206.22 L248.00,206.61 L248.50,207.01 L249.00,207.41 L249.50,207.82 L250.00,208.22 L250.50,208.63 L251.00,209.04 L251.50,209.45 L252.00,209.87 L252.50,210.28 L253.00,210.70 L253.50,211.12 L254.00,211.55 L254.50,211.97 L255.00,212.40 L255.50,212.83 L256.00,213.26 L256.50,213.70 L257.00,214.13 L257.50,214.57 L258.00,215.01 L258.50,215.45 L259.00,215.90 L259.50,216.35 L260.00,216.79 L260.50,217.25 L261.00,217.70 L261.50,218.16 L262.00,218.61 L262.50,219.07 L263.00,219.54 L263.50,220.00 L264.00,220.47 L264.50,220.94 L265.00,221.41 L265.50,221.88 L266.00,222.36 L266.50,222.84 L267.00,223.32 L267.50,223.80 L268.00,224.28 L268.50,224.77 L269.00,225.26 L269.50,225.75 L270.00,226.24 L270.50,226.74 L271.00,227.24 L271.50,227.73 L272.00,228.24 L272.50,228.74 L273.00,229.25 L273.50,229.76 L274.00,230.27 L274.50,230.78 L275.00,231.29 L275.50,231.81 L276.00,232.33 L276.50,232.85 L277.00,233.38 L277.50,233.90 L278.00,234.43 L278.50,234.96 L279.00,235.49 L279.50,236.03 L280.00,236.57 L280.50,237.10 L281.00,237.65 L281.50,238.19 L282.00,238.74 L282.50,239.28 L283.00,239.83 L283.50,240.39 L284.00,240.94 L284.50,241.50 L285.00,242.06 L285.50,242.62 L286.00,243.18 L286.50,243.75 L287.00,244.31 L287.50,244.88 L288.00,245.46 L288.50,246.03 L289.00,246.61 L289.50,247.18 L290.00,247.77 L290.50,248.35 L291.00,248.93 L291.50,249.52 L292.00,250.11 L292.50,250.70 L293.00,251.30 L293.50,251.89 L294.00,252.49 L294.50,253.09 L295.00,253.69 L295.50,254.30 L296.00,254.91 L296.50,255.51 L297.00,256.13 L297.50,256.74 L298.00,257.36 L298.50,257.97 L299.00,258.59 L299.50,259.22 L300.00,259.84 L300.50,260.47 L301.00,261.10 L301.50,261.73 L302.00,262.36 L302.50,263.00 L303.00,263.63 L303.50,264.27 L304.00,264.92 L304.50,265.56 L305.00,266.21 L305.50,266.86 L306.00,267.51 L306.50,268.16 L307.00,268.82 L307.50,269.47 L308.00,270.13 L308.50,270.79 L309.00,271.46 L309.50,272.12 L310.00,272.79 L310.50,273.46 L311.00,274.14 L311.50,274.81 L312.00,275.49 L312.50,276.17 L313.00,276.85 L313.50,277.53 L314.00,278.22 L314.50,278.91 L315.00,279.60 L315.50,280.29 L316.00,280.98 L316.50,281.68 L317.00,282.38 L317.50,283.08 L318.00,283.79 L318.50,284.49 L319.00,285.20 L319.50,285.91 L320.00,286.62 L320.50,287.34 L321.00,288.05 L321.50,288.77 L322.00,289.49 L322.50,290.21 L323.00,290.94 L323.50,291.67 L324.00,292.40 L324.50,293.13 L325.00,293.86 L325.50,294.60 L326.00,295.34 L326.50,296.08 L327.00,296.82 L327.50,297.57 L328.00,298.31 L328.50,299.06 L329.00,299.82 L329.50,300.57 L330.00,301.33 L330.50,302.08 L331.00,302.84 L331.50,303.61 L332.00,304.37 L332.50,305.14 L333.00,305.91 L333.50,306.68 L334.00,307.45 L334.50,308.23 L335.00,309.01 L335.50,309.79 L336.00,310.57 L336.50,311.35 L337.00,312.14 L337.50,312.93 L338.00,313.72 L338.50,314.51 L339.00,315.31 L339.50,316.11 L340.00,316.91 L340.50,317.71 L341.00,318.51 L341.50,319.32 L342.00,320.13 L342.50,320.94 L343.00,321.75 L343.50,322.57 L344.00,323.38 L344.50,324.20 L345.00,325.02 L345.50,325.85 L346.00,326.67 L346.50,327.50 L347.00,328.33 L347.50,329.17 L348.00,330.00 L348.50,330.84 L349.00,331.68 L349.50,332.52 L350.00,333.36 L350.50,334.21 L351.00,335.06 L351.50,335.91 L352.00,336.76 L352.50,337.61 L353.00,338.47 L353.50,339.33 L354.00,340.19 L354.50,341.05 L355.00,341.92 L355.50,342.79 L356.00,343.66 L356.50,344.53 L357.00,345.40 L357.50,346.28 L358.00,347.16 L358.50,348.04 L359.00,348.92 L359.50,349.81 L360.00,350.70 L360.50,351.58 L361.00,352.48 L361.50,353.37 L362.00,354.27 L362.50,355.17" stroke="#e4893a"/>
<path d="M53.6,208.0L63.6,218.0M53.6,218.0L63.6,208.0" stroke="#e4893a" stroke-width="1.90" fill="none"/>
<path d="M151.0,165.7L161.0,175.7M151.0,175.7L161.0,165.7" stroke="#e4893a" stroke-width="1.90" fill="none"/>
<path d="M200.0,175.3L210.0,185.3M200.0,185.3L210.0,175.3" stroke="#e4893a" stroke-width="1.90" fill="none"/>
<path clip-path="url(#pa)" fill="none" stroke-width="2.1" stroke-dasharray="6.40 5.83" stroke-dashoffset="1.88" d="M44.50,209.56 L45.00,209.07 L45.50,208.59 L46.00,208.12 L46.50,207.65 L47.00,207.18 L47.50,206.72 L48.00,206.27 L48.50,205.82 L49.00,205.37 L49.50,204.92 L50.00,204.49 L50.50,204.05 L51.00,203.62 L51.50,203.20 L52.00,202.78 L52.50,202.36 L53.00,201.95 L53.50,201.54 L54.00,201.14 L54.50,200.74 L55.00,200.35 L55.50,199.96 L56.00,199.58 L56.50,199.20 L57.00,198.82 L57.50,198.45 L58.00,198.08 L58.50,197.72 L59.00,197.36 L59.50,197.01 L60.00,196.66 L60.50,196.32 L61.00,195.98 L61.50,195.65 L62.00,195.31 L62.50,194.99 L63.00,194.67 L63.50,194.35 L64.00,194.04 L64.50,193.73 L65.00,193.43 L65.50,193.13 L66.00,192.83 L66.50,192.54 L67.00,192.26 L67.50,191.98 L68.00,191.70 L68.50,191.43 L69.00,191.16 L69.50,190.90 L70.00,190.64 L70.50,190.39 L71.00,190.14 L71.50,189.89 L72.00,189.65 L72.50,189.41 L73.00,189.18 L73.50,188.96 L74.00,188.73 L74.50,188.52 L75.00,188.30 L75.50,188.09 L76.00,187.89 L76.50,187.69 L77.00,187.49 L77.50,187.30 L78.00,187.12 L78.50,186.93 L79.00,186.76 L79.50,186.58 L80.00,186.41 L80.50,186.25 L81.00,186.09 L81.50,185.94 L82.00,185.79 L82.50,185.64 L83.00,185.50 L83.50,185.36 L84.00,185.23 L84.50,185.10 L85.00,184.98 L85.50,184.86 L86.00,184.74 L86.50,184.63 L87.00,184.53 L87.50,184.43 L88.00,184.33 L88.50,184.24 L89.00,184.15 L89.50,184.07 L90.00,183.99 L90.50,183.91 L91.00,183.85 L91.50,183.78 L92.00,183.72 L92.50,183.66 L93.00,183.61 L93.50,183.57 L94.00,183.52 L94.50,183.48 L95.00,183.45 L95.50,183.42 L96.00,183.40 L96.50,183.38 L97.00,183.36 L97.50,183.35 L98.00,183.34 L98.50,183.34 L99.00,183.34 L99.50,183.35 L100.00,183.36 L100.50,183.38 L101.00,183.40 L101.50,183.42 L102.00,183.45 L102.50,183.49 L103.00,183.53 L103.50,183.57 L104.00,183.62 L104.50,183.67 L105.00,183.72 L105.50,183.78 L106.00,183.85 L106.50,183.92 L107.00,183.99 L107.50,184.07 L108.00,184.16 L108.50,184.24 L109.00,184.34 L109.50,184.43 L110.00,184.53 L110.50,184.64 L111.00,184.75 L111.50,184.87 L112.00,184.99 L112.50,185.11 L113.00,185.24 L113.50,185.37 L114.00,185.51 L114.50,185.65 L115.00,185.80 L115.50,185.95 L116.00,186.10 L116.50,186.26 L117.00,186.43 L117.50,186.59 L118.00,186.77 L118.50,186.95 L119.00,187.13 L119.50,187.31 L120.00,187.51 L120.50,187.70 L121.00,187.90 L121.50,188.11 L122.00,188.32 L122.50,188.53 L123.00,188.75 L123.50,188.97 L124.00,189.20 L124.50,189.43 L125.00,189.67 L125.50,189.91 L126.00,190.15 L126.50,190.40 L127.00,190.66 L127.50,190.92 L128.00,191.18 L128.50,191.45 L129.00,191.72 L129.50,192.00 L130.00,192.28 L130.50,192.56 L131.00,192.85 L131.50,193.15 L132.00,193.45 L132.50,193.75 L133.00,194.06 L133.50,194.37 L134.00,194.69 L134.50,195.01 L135.00,195.34 L135.50,195.67 L136.00,196.00 L136.50,196.34 L137.00,196.69 L137.50,197.04 L138.00,197.39 L138.50,197.75 L139.00,198.11 L139.50,198.48 L140.00,198.85 L140.50,199.22 L141.00,199.60 L141.50,199.99 L142.00,200.38 L142.50,200.77 L143.00,201.17 L143.50,201.57 L144.00,201.98 L144.50,202.39 L145.00,202.81 L145.50,203.23 L146.00,203.65 L146.50,204.08 L147.00,204.52 L147.50,204.95 L148.00,205.40 L148.50,205.85 L149.00,206.30 L149.50,206.75 L150.00,207.22 L150.50,207.68 L151.00,208.15 L151.50,208.63 L152.00,209.10 L152.50,209.59 L153.00,210.08 L153.50,210.57 L154.00,211.07 L154.50,211.57 L155.00,212.07 L155.50,212.58 L156.00,213.10 L156.50,213.62 L157.00,214.14 L157.50,214.67 L158.00,215.21 L158.50,215.74 L159.00,216.29 L159.50,216.83 L160.00,217.38 L160.50,217.94 L161.00,218.50 L161.50,219.06 L162.00,219.63 L162.50,220.21 L163.00,220.78 L163.50,221.37 L164.00,221.95 L164.50,222.55 L165.00,223.14 L165.50,223.74 L166.00,224.35 L166.50,224.96 L167.00,225.57 L167.50,226.19 L168.00,226.81 L168.50,227.44 L169.00,228.07 L169.50,228.71 L170.00,229.35 L170.50,230.00 L171.00,230.65 L171.50,231.30 L172.00,231.96 L172.50,232.62 L173.00,233.29 L173.50,233.96 L174.00,234.64 L174.50,235.32 L175.00,236.01 L175.50,236.70 L176.00,237.39 L176.50,238.09 L177.00,238.80 L177.50,239.51 L178.00,240.22 L178.50,240.94 L179.00,241.66 L179.50,242.38 L180.00,243.12 L180.50,243.85 L181.00,244.59 L181.50,245.34 L182.00,246.08 L182.50,246.84 L183.00,247.60 L183.50,248.36 L184.00,249.13 L184.50,249.90 L185.00,250.67 L185.50,251.45 L186.00,252.24 L186.50,253.03 L187.00,253.82 L187.50,254.62 L188.00,255.42 L188.50,256.23 L189.00,257.04 L189.50,257.86 L190.00,258.68 L190.50,259.51 L191.00,260.34 L191.50,261.17 L192.00,262.01 L192.50,262.85 L193.00,263.70 L193.50,264.55 L194.00,265.41 L194.50,266.27 L195.00,267.14 L195.50,268.01 L196.00,268.88 L196.50,269.76 L197.00,270.65 L197.50,271.53 L198.00,272.43 L198.50,273.33 L199.00,274.23 L199.50,275.13 L200.00,276.04 L200.50,276.96 L201.00,277.88 L201.50,278.80 L202.00,279.73 L202.50,280.67 L203.00,281.60 L203.50,282.55 L204.00,283.49 L204.50,284.45 L205.00,285.40 L205.50,286.36 L206.00,287.33 L206.50,288.30 L207.00,289.27 L207.50,290.25 L208.00,291.23 L208.50,292.22 L209.00,293.21 L209.50,294.21 L210.00,295.21 L210.50,296.21 L211.00,297.22 L211.50,298.24 L212.00,299.26 L212.50,300.28 L213.00,301.31 L213.50,302.34 L214.00,303.38 L214.50,304.42 L215.00,305.46 L215.50,306.51 L216.00,307.57 L216.50,308.63 L217.00,309.69 L217.50,310.76 L218.00,311.83 L218.50,312.91 L219.00,313.99 L219.50,315.08 L220.00,316.17 L220.50,317.27 L221.00,318.37 L221.50,319.47 L222.00,320.58 L222.50,321.69 L223.00,322.81 L223.50,323.93 L224.00,325.06 L224.50,326.19 L225.00,327.33 L225.50,328.47 L226.00,329.61 L226.50,330.76 L227.00,331.91 L227.50,333.07 L228.00,334.24 L228.50,335.40 L229.00,336.57 L229.50,337.75 L230.00,338.93 L230.50,340.12 L231.00,341.31 L231.50,342.50 L232.00,343.70 L232.50,344.90 L233.00,346.11 L233.50,347.32 L234.00,348.54 L234.50,349.76 L235.00,350.99 L235.50,352.22 L236.00,353.45 L236.50,354.69 L237.00,355.93" stroke="#000000"/>
<path d="M58.6,197.3L63.0,201.7L58.6,206.1L54.2,201.7Z" fill="#000000"/>
<path d="M83.2,174.3L87.6,178.7L83.2,183.1L78.8,178.7Z" fill="#000000"/>
<path d="M107.2,185.9L111.6,190.3L107.2,194.7L102.8,190.3Z" fill="#000000"/>
<path d="M132.4,185.9L136.8,190.3L132.4,194.7L128.0,190.3Z" fill="#000000"/>
<path clip-path="url(#pa)" fill="none" stroke-width="2.1" stroke-dasharray="6.40 5.83" stroke-dashoffset="0.13" d="M63.50,355.32 L64.00,353.30 L64.50,351.28 L65.00,349.29 L65.50,347.31 L66.00,345.35 L66.50,343.40 L67.00,341.47 L67.50,339.55 L68.00,337.65 L68.50,335.76 L69.00,333.89 L69.50,332.04 L70.00,330.20 L70.50,328.38 L71.00,326.57 L71.50,324.78 L72.00,323.00 L72.50,321.24 L73.00,319.49 L73.50,317.77 L74.00,316.05 L74.50,314.35 L75.00,312.67 L75.50,311.00 L76.00,309.35 L76.50,307.72 L77.00,306.10 L77.50,304.49 L78.00,302.90 L78.50,301.33 L79.00,299.77 L79.50,298.23 L80.00,296.71 L80.50,295.20 L81.00,293.70 L81.50,292.22 L82.00,290.76 L82.50,289.31 L83.00,287.88 L83.50,286.46 L84.00,285.06 L84.50,283.68 L85.00,282.31 L85.50,280.95 L86.00,279.61 L86.50,278.29 L87.00,276.98 L87.50,275.69 L88.00,274.42 L88.50,273.15 L89.00,271.91 L89.50,270.68 L90.00,269.47 L90.50,268.27 L91.00,267.09 L91.50,265.92 L92.00,264.77 L92.50,263.63 L93.00,262.52 L93.50,261.41 L94.00,260.32 L94.50,259.25 L95.00,258.19 L95.50,257.15 L96.00,256.13 L96.50,255.12 L97.00,254.12 L97.50,253.14 L98.00,252.18 L98.50,251.23 L99.00,250.30 L99.50,249.38 L100.00,248.48 L100.50,247.60 L101.00,246.73 L101.50,245.87 L102.00,245.03 L102.50,244.21 L103.00,243.41 L103.50,242.61 L104.00,241.84 L104.50,241.08 L105.00,240.33 L105.50,239.60 L106.00,238.89 L106.50,238.19 L107.00,237.51 L107.50,236.85 L108.00,236.20 L108.50,235.56 L109.00,234.94 L109.50,234.34 L110.00,233.75 L110.50,233.18 L111.00,232.62 L111.50,232.08 L112.00,231.55 L112.50,231.04 L113.00,230.55 L113.50,230.07 L114.00,229.61 L114.50,229.16 L115.00,228.73 L115.50,228.31 L116.00,227.91 L116.50,227.53 L117.00,227.16 L117.50,226.80 L118.00,226.46 L118.50,226.14 L119.00,225.84 L119.50,225.54 L120.00,225.27 L120.50,225.01 L121.00,224.76 L121.50,224.54 L122.00,224.32 L122.50,224.13 L123.00,223.94 L123.50,223.78 L124.00,223.63 L124.50,223.49 L125.00,223.37 L125.50,223.27 L126.00,223.18 L126.50,223.11 L127.00,223.05 L127.50,223.01 L128.00,222.99 L128.50,222.98 L129.00,222.98 L129.50,223.01 L130.00,223.04 L130.50,223.10 L131.00,223.16 L131.50,223.25 L132.00,223.35 L132.50,223.46 L133.00,223.59 L133.50,223.74 L134.00,223.90 L134.50,224.08 L135.00,224.27 L135.50,224.48 L136.00,224.71 L136.50,224.95 L137.00,225.20 L137.50,225.48 L138.00,225.76 L138.50,226.07 L139.00,226.38 L139.50,226.72 L140.00,227.07 L140.50,227.43 L141.00,227.82 L141.50,228.21 L142.00,228.62 L142.50,229.05 L143.00,229.50 L143.50,229.96 L144.00,230.43 L144.50,230.92 L145.00,231.43 L145.50,231.95 L146.00,232.49 L146.50,233.04 L147.00,233.61 L147.50,234.19 L148.00,234.79 L148.50,235.41 L149.00,236.04 L149.50,236.69 L150.00,237.35 L150.50,238.03 L151.00,238.72 L151.50,239.43 L152.00,240.15 L152.50,240.90 L153.00,241.65 L153.50,242.42 L154.00,243.21 L154.50,244.01 L155.00,244.83 L155.50,245.67 L156.00,246.52 L156.50,247.38 L157.00,248.26 L157.50,249.16 L158.00,250.07 L158.50,251.00 L159.00,251.95 L159.50,252.91 L160.00,253.88 L160.50,254.87 L161.00,255.88 L161.50,256.90 L162.00,257.94 L162.50,258.99 L163.00,260.06 L163.50,261.14 L164.00,262.24 L164.50,263.36 L165.00,264.49 L165.50,265.64 L166.00,266.80 L166.50,267.98 L167.00,269.17 L167.50,270.38 L168.00,271.61 L168.50,272.85 L169.00,274.11 L169.50,275.38 L170.00,276.67 L170.50,277.97 L171.00,279.29 L171.50,280.62 L172.00,281.97 L172.50,283.34 L173.00,284.72 L173.50,286.12 L174.00,287.53 L174.50,288.96 L175.00,290.40 L175.50,291.86 L176.00,293.34 L176.50,294.83 L177.00,296.34 L177.50,297.86 L178.00,299.40 L178.50,300.95 L179.00,302.52 L179.50,304.10 L180.00,305.71 L180.50,307.32 L181.00,308.95 L181.50,310.60 L182.00,312.26 L182.50,313.94 L183.00,315.64 L183.50,317.35 L184.00,319.07 L184.50,320.81 L185.00,322.57 L185.50,324.34 L186.00,326.13 L186.50,327.93 L187.00,329.75 L187.50,331.59 L188.00,333.44 L188.50,335.30 L189.00,337.19 L189.50,339.08 L190.00,341.00 L190.50,342.93 L191.00,344.87 L191.50,346.83 L192.00,348.81 L192.50,350.80 L193.00,352.80 L193.50,354.83" stroke="#e41c1c"/>
<path d="M107.2,233.1L111.6,237.5L107.2,241.9L102.8,237.5Z" fill="#e41c1c"/>
<path d="M156.1,240.7L160.5,245.1L156.1,249.5L151.7,245.1Z" fill="#e41c1c"/>
<path clip-path="url(#pa)" fill="none" stroke-width="2.1" stroke-dasharray="6.40 5.83" stroke-dashoffset="2.43" d="M64.50,355.72 L65.00,354.05 L65.50,352.39 L66.00,350.74 L66.50,349.11 L67.00,347.49 L67.50,345.88 L68.00,344.28 L68.50,342.69 L69.00,341.12 L69.50,339.56 L70.00,338.01 L70.50,336.47 L71.00,334.94 L71.50,333.43 L72.00,331.93 L72.50,330.44 L73.00,328.96 L73.50,327.50 L74.00,326.05 L74.50,324.61 L75.00,323.18 L75.50,321.76 L76.00,320.36 L76.50,318.97 L77.00,317.59 L77.50,316.22 L78.00,314.87 L78.50,313.53 L79.00,312.20 L79.50,310.88 L80.00,309.57 L80.50,308.28 L81.00,307.00 L81.50,305.73 L82.00,304.47 L82.50,303.22 L83.00,301.99 L83.50,300.77 L84.00,299.56 L84.50,298.36 L85.00,297.18 L85.50,296.01 L86.00,294.85 L86.50,293.70 L87.00,292.56 L87.50,291.44 L88.00,290.33 L88.50,289.23 L89.00,288.14 L89.50,287.07 L90.00,286.00 L90.50,284.95 L91.00,283.92 L91.50,282.89 L92.00,281.88 L92.50,280.87 L93.00,279.88 L93.50,278.91 L94.00,277.94 L94.50,276.99 L95.00,276.05 L95.50,275.12 L96.00,274.20 L96.50,273.30 L97.00,272.40 L97.50,271.52 L98.00,270.66 L98.50,269.80 L99.00,268.96 L99.50,268.13 L100.00,267.31 L100.50,266.50 L101.00,265.70 L101.50,264.92 L102.00,264.15 L102.50,263.39 L103.00,262.65 L103.50,261.91 L104.00,261.19 L104.50,260.48 L105.00,259.78 L105.50,259.10 L106.00,258.42 L106.50,257.76 L107.00,257.11 L107.50,256.48 L108.00,255.85 L108.50,255.24 L109.00,254.64 L109.50,254.05 L110.00,253.48 L110.50,252.91 L111.00,252.36 L111.50,251.82 L112.00,251.29 L112.50,250.78 L113.00,250.28 L113.50,249.79 L114.00,249.31 L114.50,248.84 L115.00,248.39 L115.50,247.94 L116.00,247.51 L116.50,247.10 L117.00,246.69 L117.50,246.30 L118.00,245.92 L118.50,245.55 L119.00,245.19 L119.50,244.85 L120.00,244.51 L120.50,244.19 L121.00,243.89 L121.50,243.59 L122.00,243.31 L122.50,243.03 L123.00,242.77 L123.50,242.53 L124.00,242.29 L124.50,242.07 L125.00,241.86 L125.50,241.66 L126.00,241.47 L126.50,241.30 L127.00,241.14 L127.50,240.99 L128.00,240.85 L128.50,240.72 L129.00,240.61 L129.50,240.51 L130.00,240.42 L130.50,240.34 L131.00,240.28 L131.50,240.23 L132.00,240.19 L132.50,240.16 L133.00,240.14 L133.50,240.14 L134.00,240.15 L134.50,240.17 L135.00,240.20 L135.50,240.24 L136.00,240.30 L136.50,240.37 L137.00,240.45 L137.50,240.54 L138.00,240.65 L138.50,240.77 L139.00,240.90 L139.50,241.04 L140.00,241.19 L140.50,241.36 L141.00,241.54 L141.50,241.73 L142.00,241.93 L142.50,242.15 L143.00,242.38 L143.50,242.61 L144.00,242.87 L144.50,243.13 L145.00,243.41 L145.50,243.69 L146.00,244.00 L146.50,244.31 L147.00,244.63 L147.50,244.97 L148.00,245.32 L148.50,245.68 L149.00,246.05 L149.50,246.44 L150.00,246.84 L150.50,247.25 L151.00,247.67 L151.50,248.10 L152.00,248.55 L152.50,249.01 L153.00,249.48 L153.50,249.96 L154.00,250.46 L154.50,250.96 L155.00,251.48 L155.50,252.01 L156.00,252.56 L156.50,253.11 L157.00,253.68 L157.50,254.26 L158.00,254.86 L158.50,255.46 L159.00,256.08 L159.50,256.71 L160.00,257.35 L160.50,258.00 L161.00,258.67 L161.50,259.34 L162.00,260.03 L162.50,260.73 L163.00,261.45 L163.50,262.18 L164.00,262.91 L164.50,263.66 L165.00,264.43 L165.50,265.20 L166.00,265.99 L166.50,266.79 L167.00,267.60 L167.50,268.42 L168.00,269.26 L168.50,270.11 L169.00,270.97 L169.50,271.84 L170.00,272.73 L170.50,273.62 L171.00,274.53 L171.50,275.45 L172.00,276.39 L172.50,277.33 L173.00,278.29 L173.50,279.26 L174.00,280.24 L174.50,281.23 L175.00,282.24 L175.50,283.26 L176.00,284.29 L176.50,285.33 L177.00,286.39 L177.50,287.45 L178.00,288.53 L178.50,289.62 L179.00,290.73 L179.50,291.84 L180.00,292.97 L180.50,294.11 L181.00,295.26 L181.50,296.43 L182.00,297.61 L182.50,298.79 L183.00,300.00 L183.50,301.21 L184.00,302.43 L184.50,303.67 L185.00,304.92 L185.50,306.18 L186.00,307.46 L186.50,308.74 L187.00,310.04 L187.50,311.35 L188.00,312.67 L188.50,314.01 L189.00,315.36 L189.50,316.72 L190.00,318.09 L190.50,319.47 L191.00,320.87 L191.50,322.27 L192.00,323.69 L192.50,325.13 L193.00,326.57 L193.50,328.03 L194.00,329.50 L194.50,330.98 L195.00,332.47 L195.50,333.98 L196.00,335.49 L196.50,337.02 L197.00,338.56 L197.50,340.12 L198.00,341.68 L198.50,343.26 L199.00,344.85 L199.50,346.46 L200.00,348.07 L200.50,349.70 L201.00,351.34 L201.50,352.99 L202.00,354.65" stroke="#1a901a"/>
<path d="M107.4,253.4L111.8,257.8L107.4,262.2L103.0,257.8Z" fill="#1a901a"/>
<path d="M131.6,235.9L136.0,240.3L131.6,244.7L127.2,240.3Z" fill="#1a901a"/>
<path d="M156.1,247.0L160.5,251.4L156.1,255.8L151.7,251.4Z" fill="#1a901a"/>
<path clip-path="url(#pa)" fill="none" stroke-width="2.1" stroke-dasharray="6.40 5.83" stroke-dashoffset="5.16" d="M44.50,332.28 L45.00,331.55 L45.50,330.83 L46.00,330.10 L46.50,329.38 L47.00,328.66 L47.50,327.94 L48.00,327.23 L48.50,326.51 L49.00,325.80 L49.50,325.09 L50.00,324.38 L50.50,323.67 L51.00,322.97 L51.50,322.26 L52.00,321.56 L52.50,320.86 L53.00,320.16 L53.50,319.46 L54.00,318.76 L54.50,318.07 L55.00,317.37 L55.50,316.68 L56.00,315.99 L56.50,315.31 L57.00,314.62 L57.50,313.93 L58.00,313.25 L58.50,312.57 L59.00,311.89 L59.50,311.21 L60.00,310.54 L60.50,309.86 L61.00,309.19 L61.50,308.52 L62.00,307.85 L62.50,307.18 L63.00,306.51 L63.50,305.85 L64.00,305.18 L64.50,304.52 L65.00,303.86 L65.50,303.20 L66.00,302.55 L66.50,301.89 L67.00,301.24 L67.50,300.59 L68.00,299.94 L68.50,299.29 L69.00,298.65 L69.50,298.00 L70.00,297.36 L70.50,296.72 L71.00,296.08 L71.50,295.44 L72.00,294.80 L72.50,294.17 L73.00,293.53 L73.50,292.90 L74.00,292.27 L74.50,291.64 L75.00,291.02 L75.50,290.39 L76.00,289.77 L76.50,289.15 L77.00,288.53 L77.50,287.91 L78.00,287.29 L78.50,286.68 L79.00,286.07 L79.50,285.46 L80.00,284.85 L80.50,284.24 L81.00,283.63 L81.50,283.03 L82.00,282.42 L82.50,281.82 L83.00,281.22 L83.50,280.62 L84.00,280.03 L84.50,279.43 L85.00,278.84 L85.50,278.25 L86.00,277.66 L86.50,277.07 L87.00,276.48 L87.50,275.90 L88.00,275.32 L88.50,274.73 L89.00,274.15 L89.50,273.58 L90.00,273.00 L90.50,272.42 L91.00,271.85 L91.50,271.28 L92.00,270.71 L92.50,270.14 L93.00,269.58 L93.50,269.01 L94.00,268.45 L94.50,267.89 L95.00,267.33 L95.50,266.77 L96.00,266.21 L96.50,265.66 L97.00,265.10 L97.50,264.55 L98.00,264.00 L98.50,263.45 L99.00,262.91 L99.50,262.36 L100.00,261.82 L100.50,261.28 L101.00,260.74 L101.50,260.20 L102.00,259.66 L102.50,259.13 L103.00,258.60 L103.50,258.06 L104.00,257.53 L104.50,257.01 L105.00,256.48 L105.50,255.95 L106.00,255.43 L106.50,254.91 L107.00,254.39 L107.50,253.87 L108.00,253.36 L108.50,252.84 L109.00,252.33 L109.50,251.82 L110.00,251.31 L110.50,250.80 L111.00,250.29 L111.50,249.79 L112.00,249.28 L112.50,248.78 L113.00,248.28 L113.50,247.78 L114.00,247.29 L114.50,246.79 L115.00,246.30 L115.50,245.81 L116.00,245.32 L116.50,244.83 L117.00,244.34 L117.50,243.86 L118.00,243.38 L118.50,242.89 L119.00,242.41 L119.50,241.94 L120.00,241.46 L120.50,240.98 L121.00,240.51 L121.50,240.04 L122.00,239.57 L122.50,239.10 L123.00,238.63 L123.50,238.17 L124.00,237.71 L124.50,237.25 L125.00,236.79 L125.50,236.33 L126.00,235.87 L126.50,235.42 L127.00,234.96 L127.50,234.51 L128.00,234.06 L128.50,233.61 L129.00,233.17 L129.50,232.72 L130.00,232.28 L130.50,231.84 L131.00,231.40 L131.50,230.96 L132.00,230.52 L132.50,230.09 L133.00,229.65 L133.50,229.22 L134.00,228.79 L134.50,228.36 L135.00,227.94 L135.50,227.51 L136.00,227.09 L136.50,226.67 L137.00,226.25 L137.50,225.83 L138.00,225.41 L138.50,225.00 L139.00,224.58 L139.50,224.17 L140.00,223.76 L140.50,223.35 L141.00,222.95 L141.50,222.54 L142.00,222.14 L142.50,221.74 L143.00,221.34 L143.50,220.94 L144.00,220.54 L144.50,220.15 L145.00,219.76 L145.50,219.36 L146.00,218.97 L146.50,218.59 L147.00,218.20 L147.50,217.81 L148.00,217.43 L148.50,217.05 L149.00,216.67 L149.50,216.29 L150.00,215.91 L150.50,215.54 L151.00,215.17 L151.50,214.79 L152.00,214.42 L152.50,214.06 L153.00,213.69 L153.50,213.32 L154.00,212.96 L154.50,212.60 L155.00,212.24 L155.50,211.88 L156.00,211.52 L156.50,211.17 L157.00,210.82 L157.50,210.47 L158.00,210.12 L158.50,209.77 L159.00,209.42 L159.50,209.08 L160.00,208.73 L160.50,208.39 L161.00,208.05 L161.50,207.71 L162.00,207.38 L162.50,207.04 L163.00,206.71 L163.50,206.38 L164.00,206.05 L164.50,205.72 L165.00,205.39 L165.50,205.07 L166.00,204.74 L166.50,204.42 L167.00,204.10 L167.50,203.78 L168.00,203.47 L168.50,203.15 L169.00,202.84 L169.50,202.53 L170.00,202.22 L170.50,201.91 L171.00,201.60 L171.50,201.30 L172.00,200.99 L172.50,200.69 L173.00,200.39 L173.50,200.09 L174.00,199.80 L174.50,199.50 L175.00,199.21 L175.50,198.92 L176.00,198.63 L176.50,198.34 L177.00,198.05 L177.50,197.77 L178.00,197.48 L178.50,197.20 L179.00,196.92 L179.50,196.64 L180.00,196.37 L180.50,196.09 L181.00,195.82 L181.50,195.55 L182.00,195.28 L182.50,195.01 L183.00,194.74 L183.50,194.48 L184.00,194.21 L184.50,193.95 L185.00,193.69 L185.50,193.43 L186.00,193.17 L186.50,192.92 L187.00,192.67 L187.50,192.41 L188.00,192.16 L188.50,191.92 L189.00,191.67 L189.50,191.42 L190.00,191.18 L190.50,190.94 L191.00,190.70 L191.50,190.46 L192.00,190.22 L192.50,189.99 L193.00,189.76 L193.50,189.52 L194.00,189.29 L194.50,189.07 L195.00,188.84 L195.50,188.61 L196.00,188.39 L196.50,188.17 L197.00,187.95 L197.50,187.73 L198.00,187.51 L198.50,187.30 L199.00,187.09 L199.50,186.87 L200.00,186.66 L200.50,186.45 L201.00,186.25 L201.50,186.04 L202.00,185.84 L202.50,185.64 L203.00,185.44 L203.50,185.24 L204.00,185.04 L204.50,184.85 L205.00,184.65 L205.50,184.46 L206.00,184.27 L206.50,184.08 L207.00,183.90 L207.50,183.71 L208.00,183.53 L208.50,183.35 L209.00,183.17 L209.50,182.99 L210.00,182.81 L210.50,182.64 L211.00,182.46 L211.50,182.29 L212.00,182.12 L212.50,181.95 L213.00,181.79 L213.50,181.62 L214.00,181.46 L214.50,181.30 L215.00,181.14 L215.50,180.98 L216.00,180.82 L216.50,180.67 L217.00,180.51 L217.50,180.36 L218.00,180.21 L218.50,180.06 L219.00,179.91 L219.50,179.77 L220.00,179.63 L220.50,179.48 L221.00,179.34 L221.50,179.21 L222.00,179.07 L222.50,178.93 L223.00,178.80 L223.50,178.67 L224.00,178.54 L224.50,178.41 L225.00,178.28 L225.50,178.16 L226.00,178.03 L226.50,177.91 L227.00,177.79 L227.50,177.67 L228.00,177.56 L228.50,177.44 L229.00,177.33 L229.50,177.22 L230.00,177.11 L230.50,177.00 L231.00,176.89 L231.50,176.79 L232.00,176.68 L232.50,176.58 L233.00,176.48 L233.50,176.38 L234.00,176.29 L234.50,176.19 L235.00,176.10 L235.50,176.01 L236.00,175.92 L236.50,175.83 L237.00,175.74 L237.50,175.65 L238.00,175.57 L238.50,175.49 L239.00,175.41 L239.50,175.33 L240.00,175.25 L240.50,175.18 L241.00,175.11 L241.50,175.03 L242.00,174.96 L242.50,174.89 L243.00,174.83 L243.50,174.76 L244.00,174.70 L244.50,174.64 L245.00,174.58 L245.50,174.52 L246.00,174.46 L246.50,174.41 L247.00,174.35 L247.50,174.30 L248.00,174.25 L248.50,174.20 L249.00,174.16 L249.50,174.11 L250.00,174.07 L250.50,174.02 L251.00,173.98 L251.50,173.95 L252.00,173.91 L252.50,173.87 L253.00,173.84 L253.50,173.81 L254.00,173.78 L254.50,173.75 L255.00,173.72 L255.50,173.70 L256.00,173.67 L256.50,173.65 L257.00,173.63 L257.50,173.61 L258.00,173.60 L258.50,173.58 L259.00,173.57 L259.50,173.56 L260.00,173.55 L260.50,173.54 L261.00,173.53 L261.50,173.53 L262.00,173.52 L262.50,173.52 L263.00,173.52 L263.50,173.52 L264.00,173.52 L264.50,173.53 L265.00,173.54 L265.50,173.54 L266.00,173.55 L266.50,173.56 L267.00,173.58 L267.50,173.59 L268.00,173.61 L268.50,173.63 L269.00,173.65 L269.50,173.67 L270.00,173.69 L270.50,173.72 L271.00,173.74 L271.50,173.77 L272.00,173.80 L272.50,173.83 L273.00,173.86 L273.50,173.90 L274.00,173.94 L274.50,173.97 L275.00,174.01 L275.50,174.06 L276.00,174.10 L276.50,174.14 L277.00,174.19 L277.50,174.24 L278.00,174.29 L278.50,174.34 L279.00,174.39 L279.50,174.45 L280.00,174.50 L280.50,174.56 L281.00,174.62 L281.50,174.68 L282.00,174.75 L282.50,174.81 L283.00,174.88 L283.50,174.94 L284.00,175.01 L284.50,175.09 L285.00,175.16 L285.50,175.23 L286.00,175.31 L286.50,175.39 L287.00,175.47 L287.50,175.55 L288.00,175.63 L288.50,175.72 L289.00,175.80 L289.50,175.89 L290.00,175.98 L290.50,176.07 L291.00,176.17 L291.50,176.26 L292.00,176.36 L292.50,176.45 L293.00,176.55 L293.50,176.66 L294.00,176.76 L294.50,176.86 L295.00,176.97 L295.50,177.08 L296.00,177.19 L296.50,177.30 L297.00,177.41 L297.50,177.53 L298.00,177.64 L298.50,177.76 L299.00,177.88 L299.50,178.00 L300.00,178.12 L300.50,178.25 L301.00,178.38 L301.50,178.50 L302.00,178.63 L302.50,178.76 L303.00,178.90 L303.50,179.03 L304.00,179.17 L304.50,179.31 L305.00,179.45 L305.50,179.59 L306.00,179.73 L306.50,179.88 L307.00,180.02 L307.50,180.17 L308.00,180.32 L308.50,180.47 L309.00,180.62 L309.50,180.78 L310.00,180.93 L310.50,181.09 L311.00,181.25 L311.50,181.41 L312.00,181.58 L312.50,181.74 L313.00,181.91 L313.50,182.08 L314.00,182.25 L314.50,182.42 L315.00,182.59 L315.50,182.76 L316.00,182.94 L316.50,183.12 L317.00,183.30 L317.50,183.48 L318.00,183.66 L318.50,183.85 L319.00,184.03 L319.50,184.22 L320.00,184.41 L320.50,184.60 L321.00,184.80 L321.50,184.99 L322.00,185.19 L322.50,185.38 L323.00,185.58 L323.50,185.78 L324.00,185.99 L324.50,186.19 L325.00,186.40 L325.50,186.61 L326.00,186.82 L326.50,187.03 L327.00,187.24 L327.50,187.46 L328.00,187.67 L328.50,187.89 L329.00,188.11 L329.50,188.33 L330.00,188.55 L330.50,188.78 L331.00,189.00 L331.50,189.23 L332.00,189.46 L332.50,189.69 L333.00,189.93 L333.50,190.16 L334.00,190.40 L334.50,190.63 L335.00,190.87 L335.50,191.12 L336.00,191.36 L336.50,191.60 L337.00,191.85 L337.50,192.10 L338.00,192.35 L338.50,192.60 L339.00,192.85 L339.50,193.11 L340.00,193.36 L340.50,193.62 L341.00,193.88 L341.50,194.14 L342.00,194.40 L342.50,194.67 L343.00,194.93 L343.50,195.20 L344.00,195.47 L344.50,195.74 L345.00,196.02 L345.50,196.29 L346.00,196.57 L346.50,196.84 L347.00,197.12 L347.50,197.41 L348.00,197.69 L348.50,197.97 L349.00,198.26 L349.50,198.55 L350.00,198.84 L350.50,199.13 L351.00,199.42 L351.50,199.72 L352.00,200.01 L352.50,200.31 L353.00,200.61 L353.50,200.91 L354.00,201.21 L354.50,201.52 L355.00,201.82 L355.50,202.13 L356.00,202.44 L356.50,202.75 L357.00,203.07 L357.50,203.38 L358.00,203.70 L358.50,204.01 L359.00,204.33 L359.50,204.65 L360.00,204.98 L360.50,205.30 L361.00,205.63 L361.50,205.96 L362.00,206.29 L362.50,206.62 L363.00,206.95 L363.50,207.28 L364.00,207.62 L364.50,207.96 L365.00,208.30 L365.50,208.64 L366.00,208.98 L366.50,209.33 L367.00,209.67 L367.50,210.02 L368.00,210.37 L368.50,210.72 L369.00,211.07 L369.50,211.43 L370.00,211.78 L370.50,212.14 L371.00,212.50 L371.50,212.86 L372.00,213.23 L372.50,213.59 L373.00,213.96 L373.50,214.32 L374.00,214.69 L374.50,215.07 L375.00,215.44 L375.50,215.81 L376.00,216.19 L376.50,216.57 L377.00,216.95 L377.50,217.33 L378.00,217.71 L378.50,218.09 L379.00,218.48 L379.50,218.87 L380.00,219.26 L380.50,219.65 L381.00,220.04 L381.50,220.44 L382.00,220.83 L382.50,221.23 L383.00,221.63 L383.50,222.03 L384.00,222.43 L384.50,222.84 L385.00,223.24 L385.50,223.65 L386.00,224.06 L386.50,224.47 L387.00,224.89 L387.50,225.30 L388.00,225.72 L388.50,226.13 L389.00,226.55 L389.50,226.97 L390.00,227.40 L390.50,227.82 L391.00,228.25 L391.50,228.68 L392.00,229.11 L392.50,229.54 L393.00,229.97 L393.50,230.40 L394.00,230.84 L394.50,231.28 L395.00,231.72 L395.50,232.16 L396.00,232.60 L396.50,233.05 L397.00,233.49 L397.50,233.94 L398.00,234.39 L398.50,234.84 L399.00,235.29 L399.50,235.75 L400.00,236.20 L400.50,236.66 L401.00,237.12 L401.50,237.58 L402.00,238.04 L402.50,238.51 L403.00,238.97 L403.50,239.44 L404.00,239.91 L404.50,240.38 L405.00,240.86 L405.50,241.33 L406.00,241.81 L406.50,242.28 L407.00,242.76 L407.50,243.24 L408.00,243.73 L408.50,244.21 L409.00,244.70 L409.50,245.19 L410.00,245.68 L410.50,246.17 L411.00,246.66 L411.50,247.15 L412.00,247.65 L412.50,248.15 L413.00,248.65 L413.50,249.15 L414.00,249.65 L414.50,250.15 L415.00,250.66 L415.50,251.17 L416.00,251.68 L416.50,252.19 L417.00,252.70 L417.50,253.22 L418.00,253.73 L418.50,254.25 L419.00,254.77 L419.50,255.29 L420.00,255.81 L420.50,256.34 L421.00,256.86 L421.50,257.39 L422.00,257.92 L422.50,258.45 L423.00,258.98 L423.50,259.52 L424.00,260.05 L424.50,260.59 L425.00,261.13 L425.50,261.67 L426.00,262.22 L426.50,262.76 L427.00,263.31 L427.50,263.85 L428.00,264.40 L428.50,264.95 L429.00,265.51 L429.50,266.06 L430.00,266.62 L430.50,267.18 L431.00,267.73 L431.50,268.30 L432.00,268.86 L432.50,269.42 L433.00,269.99 L433.50,270.56 L434.00,271.13 L434.50,271.70 L435.00,272.27 L435.50,272.84 L436.00,273.42 L436.50,274.00 L437.00,274.58 L437.50,275.16 L438.00,275.74 L438.50,276.32 L439.00,276.91 L439.50,277.50 L440.00,278.09 L440.50,278.68 L441.00,279.27 L441.50,279.87 L442.00,280.46 L442.50,281.06 L443.00,281.66 L443.50,282.26 L444.00,282.86 L444.50,283.47 L445.00,284.07 L445.50,284.68 L446.00,285.29 L446.50,285.90 L447.00,286.51 L447.50,287.13 L448.00,287.74 L448.50,288.36 L449.00,288.98 L449.50,289.60 L450.00,290.22 L450.50,290.85 L451.00,291.47 L451.50,292.10 L452.00,292.73 L452.50,293.36 L453.00,294.00 L453.50,294.63 L454.00,295.27 L454.50,295.90 L455.00,296.54 L455.50,297.18 L456.00,297.83 L456.50,298.47 L457.00,299.12 L457.50,299.76 L458.00,300.41 L458.50,301.06 L459.00,301.72 L459.50,302.37 L460.00,303.03 L460.50,303.68 L461.00,304.34 L461.50,305.00 L462.00,305.67 L462.50,306.33 L463.00,307.00 L463.50,307.67 L464.00,308.33 L464.50,309.01 L465.00,309.68 L465.50,310.35 L466.00,311.03 L466.50,311.71 L467.00,312.39 L467.50,313.07 L468.00,313.75 L468.50,314.43 L469.00,315.12 L469.50,315.81 L470.00,316.50 L470.50,317.19 L471.00,317.88 L471.50,318.57 L472.00,319.27 L472.50,319.97 L473.00,320.67 L473.50,321.37 L474.00,322.07 L474.50,322.77 L475.00,323.48 L475.50,324.19 L476.00,324.90 L476.50,325.61 L477.00,326.32 L477.50,327.03 L478.00,327.75 L478.50,328.47 L479.00,329.19 L479.50,329.91 L480.00,330.63 L480.50,331.36 L481.00,332.08 L481.50,332.81 L482.00,333.54 L482.50,334.27 L483.00,335.00 L483.50,335.74 L484.00,336.47 L484.50,337.21 L485.00,337.95 L485.50,338.69 L486.00,339.43 L486.50,340.18 L487.00,340.92 L487.50,341.67 L488.00,342.42 L488.50,343.17 L489.00,343.92 L489.50,344.68 L490.00,345.43 L490.50,346.19 L491.00,346.95 L491.50,347.71 L492.00,348.47 L492.50,349.24 L493.00,350.00 L493.50,350.77 L494.00,351.54 L494.50,352.31 L495.00,353.08 L495.50,353.86 L496.00,354.63 L496.50,355.41" stroke="#1616cc"/>
<path d="M126.6,222.2L136.6,222.2M131.6,217.2L131.6,227.2" stroke="#1616cc" stroke-width="2.30" fill="none"/>
<path d="M150.9,212.2L160.9,212.2M155.9,207.2L155.9,217.2" stroke="#1616cc" stroke-width="2.30" fill="none"/>
<path d="M199.1,194.2L209.1,194.2M204.1,189.2L204.1,199.2" stroke="#1616cc" stroke-width="2.30" fill="none"/>
<path d="M248.8,184.7L258.8,184.7M253.8,179.7L253.8,189.7" stroke="#1616cc" stroke-width="2.30" fill="none"/>
<path d="M297.8,180.7L307.8,180.7M302.8,175.7L302.8,185.7" stroke="#1616cc" stroke-width="2.30" fill="none"/>
<path d="M346.7,182.9L356.7,182.9M351.7,177.9L351.7,187.9" stroke="#1616cc" stroke-width="2.30" fill="none"/>
<path d="M381.5,219.0L391.5,219.0M386.5,214.0L386.5,224.0" stroke="#1616cc" stroke-width="2.30" fill="none"/>
<path d="M444.0,291.7L454.0,291.7M449.0,286.7L449.0,296.7" stroke="#1616cc" stroke-width="2.30" fill="none"/>
<path d="M46.5,8.0V316.0H511.0" stroke="#000" stroke-width="1.7" fill="none"/>
<path d="M43.5,299.2H46.5" stroke="#000" stroke-width="1.5"/>
<path d="M40.5,270.7H46.5" stroke="#000" stroke-width="1.5"/>
<text x="37.0" y="274.5" font-size="11.6" font-weight="bold" text-anchor="end">0.5</text>
<path d="M43.5,242.2H46.5" stroke="#000" stroke-width="1.5"/>
<path d="M40.5,213.8H46.5" stroke="#000" stroke-width="1.5"/>
<text x="37.0" y="217.6" font-size="11.6" font-weight="bold" text-anchor="end">1.0</text>
<path d="M43.5,185.3H46.5" stroke="#000" stroke-width="1.5"/>
<path d="M40.5,156.8H46.5" stroke="#000" stroke-width="1.5"/>
<text x="37.0" y="160.6" font-size="11.6" font-weight="bold" text-anchor="end">1.5</text>
<path d="M43.5,128.3H46.5" stroke="#000" stroke-width="1.5"/>
<path d="M40.5,99.8H46.5" stroke="#000" stroke-width="1.5"/>
<text x="37.0" y="103.6" font-size="11.6" font-weight="bold" text-anchor="end">2.0</text>
<path d="M43.5,71.4H46.5" stroke="#000" stroke-width="1.5"/>
<path d="M40.5,42.9H46.5" stroke="#000" stroke-width="1.5"/>
<text x="37.0" y="46.7" font-size="11.6" font-weight="bold" text-anchor="end">2.5</text>
<path d="M43.5,14.4H46.5" stroke="#000" stroke-width="1.5"/>
<path d="M52.4,316.0V319.0" stroke="#000" stroke-width="1.5"/>
<path d="M83.0,316.0V321.0" stroke="#000" stroke-width="1.5"/>
<text x="83.0" y="334.9" font-size="11.6" font-weight="bold" text-anchor="middle">300</text>
<path d="M113.6,316.0V319.0" stroke="#000" stroke-width="1.5"/>
<path d="M144.1,316.0V321.0" stroke="#000" stroke-width="1.5"/>
<text x="144.1" y="334.9" font-size="11.6" font-weight="bold" text-anchor="middle">350</text>
<path d="M174.7,316.0V319.0" stroke="#000" stroke-width="1.5"/>
<path d="M205.2,316.0V321.0" stroke="#000" stroke-width="1.5"/>
<text x="205.2" y="334.9" font-size="11.6" font-weight="bold" text-anchor="middle">400</text>
<path d="M235.8,316.0V319.0" stroke="#000" stroke-width="1.5"/>
<path d="M266.3,316.0V321.0" stroke="#000" stroke-width="1.5"/>
<text x="266.3" y="334.9" font-size="11.6" font-weight="bold" text-anchor="middle">450</text>
<path d="M296.9,316.0V319.0" stroke="#000" stroke-width="1.5"/>
<path d="M327.5,316.0V321.0" stroke="#000" stroke-width="1.5"/>
<text x="327.5" y="334.9" font-size="11.6" font-weight="bold" text-anchor="middle">500</text>
<path d="M358.0,316.0V319.0" stroke="#000" stroke-width="1.5"/>
<path d="M388.6,316.0V321.0" stroke="#000" stroke-width="1.5"/>
<text x="388.6" y="334.9" font-size="11.6" font-weight="bold" text-anchor="middle">550</text>
<path d="M419.1,316.0V319.0" stroke="#000" stroke-width="1.5"/>
<path d="M449.7,316.0V321.0" stroke="#000" stroke-width="1.5"/>
<text x="449.7" y="334.9" font-size="11.6" font-weight="bold" text-anchor="middle">600</text>
<path d="M480.2,316.0V319.0" stroke="#000" stroke-width="1.5"/>
<path d="M510.8,316.0V321.0" stroke="#000" stroke-width="1.5"/>
<text x="510.8" y="334.9" font-size="11.6" font-weight="bold" text-anchor="middle">650</text>
<text x="278.2" y="354.6" font-size="11.6" stroke="#000" stroke-width="0.5" text-anchor="middle">D<tspan font-size="8.5" dy="3">2</tspan><tspan dy="-3"> pressure (Pa)</tspan></text>
<text transform="translate(10.9,161.9) rotate(-90)" font-size="11.8" stroke="#000" stroke-width="0.5" text-anchor="middle">Neutron yield (10<tspan font-size="7.5" dy="-3.5">8</tspan><tspan dy="3.5"> neutrons/shot)</tspan></text>
<rect x="415.5" y="0.2" width="102.8" height="133.6" fill="#fff" stroke="#000" stroke-width="1.3"/>
<circle cx="430.4" cy="8.6" r="4.45" fill="#0c0c80"/>
<text x="447.6" y="12.6" font-size="11.7" stroke="#000" stroke-width="0.5">Hollow round</text>
<circle cx="430.4" cy="23.3" r="4.45" fill="#e4d632"/>
<text x="447.6" y="27.3" font-size="11.7" stroke="#000" stroke-width="0.5">Round</text>
<path d="M425.4,38.0L435.4,38.0M430.4,33.0L430.4,43.0" stroke="#1616cc" stroke-width="2.30" fill="none"/>
<text x="447.6" y="42.0" font-size="11.7" stroke="#000" stroke-width="0.5">Hollow bullet</text>
<path d="M425.4,47.8L435.4,57.8M425.4,57.8L435.4,47.8" stroke="#d41fd4" stroke-width="1.90" fill="none"/>
<text x="447.6" y="56.8" font-size="11.7" stroke="#000" stroke-width="0.5">Long taper</text>
<path d="M425.4,62.5L435.4,72.5M425.4,72.5L435.4,62.5" stroke="#38e4e4" stroke-width="1.90" fill="none"/>
<text x="447.6" y="71.5" font-size="11.7" stroke="#000" stroke-width="0.5">Short taper</text>
<path d="M425.4,77.2L435.4,87.2M425.4,87.2L435.4,77.2" stroke="#e4893a" stroke-width="1.90" fill="none"/>
<text x="447.6" y="86.2" font-size="11.7" stroke="#000" stroke-width="0.5">Hollow taper</text>
<path d="M430.4,92.5L434.8,96.9L430.4,101.3L426.0,96.9Z" fill="#000000"/>
<text x="447.6" y="100.9" font-size="11.7" stroke="#000" stroke-width="0.5">Conical bore</text>
<path d="M430.4,107.2L434.8,111.6L430.4,116.0L426.0,111.6Z" fill="#e41c1c"/>
<text x="447.6" y="115.6" font-size="11.7" stroke="#000" stroke-width="0.5">Cylinder</text>
<path d="M430.4,122.0L434.8,126.4L430.4,130.8L426.0,126.4Z" fill="#1a901a"/>
<text x="447.6" y="130.4" font-size="11.7" stroke="#000" stroke-width="0.5">Long cylinder</text>
</svg>
</body></html>
